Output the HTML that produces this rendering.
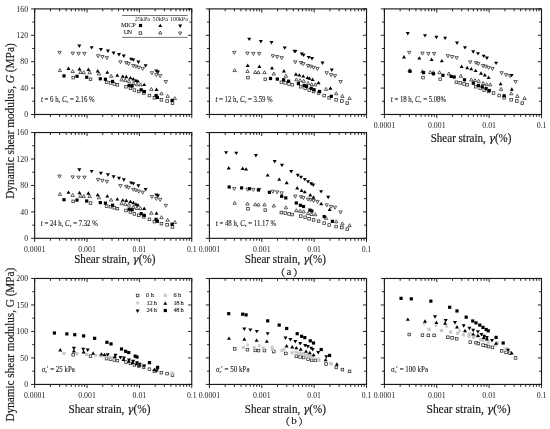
<!DOCTYPE html>
<html><head><meta charset="utf-8"><title>Dynamic shear modulus vs shear strain</title><style>
html,body{margin:0;padding:0;background:#fff;width:550px;height:429px;overflow:hidden;}
svg{display:block;filter:blur(0.3px);}
text{font-family:'Liberation Serif','Times New Roman',serif;fill:#1a1a1a;}
</style></head><body>
<svg width="550" height="429" viewBox="0 0 550 429">
<rect x="34.65" y="8.9" width="157.1" height="105.57" fill="none" stroke="#1a1a1a" stroke-width="1.15"/>
<path d="M34.65 114.47v3.6M34.65 8.9v3.6M50.41 114.47v2.4M50.41 8.9v2.4M59.64 114.47v2.4M59.64 8.9v2.4M66.18 114.47v2.4M66.18 8.9v2.4M71.25 114.47v2.4M71.25 8.9v2.4M75.4 114.47v2.4M75.4 8.9v2.4M78.9 114.47v2.4M78.9 8.9v2.4M81.94 114.47v2.4M81.94 8.9v2.4M84.62 114.47v2.4M84.62 8.9v2.4M87.02 114.47v3.6M87.02 8.9v3.6M102.78 114.47v2.4M102.78 8.9v2.4M112 114.47v2.4M112 8.9v2.4M118.54 114.47v2.4M118.54 8.9v2.4M123.62 114.47v2.4M123.62 8.9v2.4M127.77 114.47v2.4M127.77 8.9v2.4M131.27 114.47v2.4M131.27 8.9v2.4M134.31 114.47v2.4M134.31 8.9v2.4M136.99 114.47v2.4M136.99 8.9v2.4M139.38 114.47v3.6M139.38 8.9v3.6M155.15 114.47v2.4M155.15 8.9v2.4M164.37 114.47v2.4M164.37 8.9v2.4M170.91 114.47v2.4M170.91 8.9v2.4M175.99 114.47v2.4M175.99 8.9v2.4M180.13 114.47v2.4M180.13 8.9v2.4M183.64 114.47v2.4M183.64 8.9v2.4M186.68 114.47v2.4M186.68 8.9v2.4M189.35 114.47v2.4M189.35 8.9v2.4M191.75 114.47v3.6M191.75 8.9v3.6M31.05 114.47h3.6M188.15 114.47h3.6M32.25 101.27h2.4M189.35 101.27h2.4M31.05 88.08h3.6M188.15 88.08h3.6M32.25 74.88h2.4M189.35 74.88h2.4M31.05 61.69h3.6M188.15 61.69h3.6M32.25 48.49h2.4M189.35 48.49h2.4M31.05 35.29h3.6M188.15 35.29h3.6M32.25 22.1h2.4M189.35 22.1h2.4M31.05 8.9h3.6M188.15 8.9h3.6" stroke="#1a1a1a" stroke-width="0.95" fill="none"/>
<text x="28.05" y="117.07" font-size="7.8" text-anchor="end" >0</text>
<text x="28.05" y="90.68" font-size="7.8" text-anchor="end" >40</text>
<text x="28.05" y="64.28" font-size="7.8" text-anchor="end" >80</text>
<text x="28.05" y="37.89" font-size="7.8" text-anchor="end" >120</text>
<text x="28.05" y="11.5" font-size="7.8" text-anchor="end" >160</text>
<rect x="209.42" y="8.9" width="157.1" height="105.57" fill="none" stroke="#1a1a1a" stroke-width="1.15"/>
<path d="M209.42 114.47v3.6M209.42 8.9v3.6M225.18 114.47v2.4M225.18 8.9v2.4M234.41 114.47v2.4M234.41 8.9v2.4M240.95 114.47v2.4M240.95 8.9v2.4M246.02 114.47v2.4M246.02 8.9v2.4M250.17 114.47v2.4M250.17 8.9v2.4M253.67 114.47v2.4M253.67 8.9v2.4M256.71 114.47v2.4M256.71 8.9v2.4M259.39 114.47v2.4M259.39 8.9v2.4M261.79 114.47v3.6M261.79 8.9v3.6M277.55 114.47v2.4M277.55 8.9v2.4M286.77 114.47v2.4M286.77 8.9v2.4M293.31 114.47v2.4M293.31 8.9v2.4M298.39 114.47v2.4M298.39 8.9v2.4M302.54 114.47v2.4M302.54 8.9v2.4M306.04 114.47v2.4M306.04 8.9v2.4M309.08 114.47v2.4M309.08 8.9v2.4M311.76 114.47v2.4M311.76 8.9v2.4M314.15 114.47v3.6M314.15 8.9v3.6M329.92 114.47v2.4M329.92 8.9v2.4M339.14 114.47v2.4M339.14 8.9v2.4M345.68 114.47v2.4M345.68 8.9v2.4M350.76 114.47v2.4M350.76 8.9v2.4M354.9 114.47v2.4M354.9 8.9v2.4M358.41 114.47v2.4M358.41 8.9v2.4M361.45 114.47v2.4M361.45 8.9v2.4M364.12 114.47v2.4M364.12 8.9v2.4M366.52 114.47v3.6M366.52 8.9v3.6M205.82 114.47h3.6M362.92 114.47h3.6M207.02 101.27h2.4M364.12 101.27h2.4M205.82 88.08h3.6M362.92 88.08h3.6M207.02 74.88h2.4M364.12 74.88h2.4M205.82 61.69h3.6M362.92 61.69h3.6M207.02 48.49h2.4M364.12 48.49h2.4M205.82 35.29h3.6M362.92 35.29h3.6M207.02 22.1h2.4M364.12 22.1h2.4M205.82 8.9h3.6M362.92 8.9h3.6" stroke="#1a1a1a" stroke-width="0.95" fill="none"/>
<rect x="384.4" y="8.9" width="157.1" height="105.57" fill="none" stroke="#1a1a1a" stroke-width="1.15"/>
<path d="M384.4 114.47v3.6M384.4 8.9v3.6M400.16 114.47v2.4M400.16 8.9v2.4M409.39 114.47v2.4M409.39 8.9v2.4M415.93 114.47v2.4M415.93 8.9v2.4M421 114.47v2.4M421 8.9v2.4M425.15 114.47v2.4M425.15 8.9v2.4M428.65 114.47v2.4M428.65 8.9v2.4M431.69 114.47v2.4M431.69 8.9v2.4M434.37 114.47v2.4M434.37 8.9v2.4M436.77 114.47v3.6M436.77 8.9v3.6M452.53 114.47v2.4M452.53 8.9v2.4M461.75 114.47v2.4M461.75 8.9v2.4M468.29 114.47v2.4M468.29 8.9v2.4M473.37 114.47v2.4M473.37 8.9v2.4M477.52 114.47v2.4M477.52 8.9v2.4M481.02 114.47v2.4M481.02 8.9v2.4M484.06 114.47v2.4M484.06 8.9v2.4M486.74 114.47v2.4M486.74 8.9v2.4M489.13 114.47v3.6M489.13 8.9v3.6M504.9 114.47v2.4M504.9 8.9v2.4M514.12 114.47v2.4M514.12 8.9v2.4M520.66 114.47v2.4M520.66 8.9v2.4M525.74 114.47v2.4M525.74 8.9v2.4M529.88 114.47v2.4M529.88 8.9v2.4M533.39 114.47v2.4M533.39 8.9v2.4M536.43 114.47v2.4M536.43 8.9v2.4M539.1 114.47v2.4M539.1 8.9v2.4M541.5 114.47v3.6M541.5 8.9v3.6M380.8 114.47h3.6M537.9 114.47h3.6M382 101.27h2.4M539.1 101.27h2.4M380.8 88.08h3.6M537.9 88.08h3.6M382 74.88h2.4M539.1 74.88h2.4M380.8 61.69h3.6M537.9 61.69h3.6M382 48.49h2.4M539.1 48.49h2.4M380.8 35.29h3.6M537.9 35.29h3.6M382 22.1h2.4M539.1 22.1h2.4M380.8 8.9h3.6M537.9 8.9h3.6" stroke="#1a1a1a" stroke-width="0.95" fill="none"/>
<text x="384.4" y="127.77" font-size="7.8" text-anchor="middle" >0.0001</text>
<text x="436.77" y="127.77" font-size="7.8" text-anchor="middle" >0.001</text>
<text x="489.13" y="127.77" font-size="7.8" text-anchor="middle" >0.01</text>
<text x="541.5" y="127.77" font-size="7.8" text-anchor="middle" >0.1</text>
<rect x="34.65" y="132.55" width="157.1" height="105.8" fill="none" stroke="#1a1a1a" stroke-width="1.15"/>
<path d="M34.65 238.35v3.6M34.65 132.55v3.6M50.41 238.35v2.4M50.41 132.55v2.4M59.64 238.35v2.4M59.64 132.55v2.4M66.18 238.35v2.4M66.18 132.55v2.4M71.25 238.35v2.4M71.25 132.55v2.4M75.4 238.35v2.4M75.4 132.55v2.4M78.9 238.35v2.4M78.9 132.55v2.4M81.94 238.35v2.4M81.94 132.55v2.4M84.62 238.35v2.4M84.62 132.55v2.4M87.02 238.35v3.6M87.02 132.55v3.6M102.78 238.35v2.4M102.78 132.55v2.4M112 238.35v2.4M112 132.55v2.4M118.54 238.35v2.4M118.54 132.55v2.4M123.62 238.35v2.4M123.62 132.55v2.4M127.77 238.35v2.4M127.77 132.55v2.4M131.27 238.35v2.4M131.27 132.55v2.4M134.31 238.35v2.4M134.31 132.55v2.4M136.99 238.35v2.4M136.99 132.55v2.4M139.38 238.35v3.6M139.38 132.55v3.6M155.15 238.35v2.4M155.15 132.55v2.4M164.37 238.35v2.4M164.37 132.55v2.4M170.91 238.35v2.4M170.91 132.55v2.4M175.99 238.35v2.4M175.99 132.55v2.4M180.13 238.35v2.4M180.13 132.55v2.4M183.64 238.35v2.4M183.64 132.55v2.4M186.68 238.35v2.4M186.68 132.55v2.4M189.35 238.35v2.4M189.35 132.55v2.4M191.75 238.35v3.6M191.75 132.55v3.6M31.05 238.35h3.6M188.15 238.35h3.6M32.25 225.13h2.4M189.35 225.13h2.4M31.05 211.9h3.6M188.15 211.9h3.6M32.25 198.68h2.4M189.35 198.68h2.4M31.05 185.45h3.6M188.15 185.45h3.6M32.25 172.23h2.4M189.35 172.23h2.4M31.05 159h3.6M188.15 159h3.6M32.25 145.78h2.4M189.35 145.78h2.4M31.05 132.55h3.6M188.15 132.55h3.6" stroke="#1a1a1a" stroke-width="0.95" fill="none"/>
<text x="28.05" y="240.95" font-size="7.8" text-anchor="end" >0</text>
<text x="28.05" y="214.5" font-size="7.8" text-anchor="end" >40</text>
<text x="28.05" y="188.05" font-size="7.8" text-anchor="end" >80</text>
<text x="28.05" y="161.6" font-size="7.8" text-anchor="end" >120</text>
<text x="28.05" y="135.15" font-size="7.8" text-anchor="end" >160</text>
<text x="34.65" y="252.05" font-size="7.8" text-anchor="middle" >0.0001</text>
<text x="87.02" y="252.05" font-size="7.8" text-anchor="middle" >0.001</text>
<text x="139.38" y="252.05" font-size="7.8" text-anchor="middle" >0.01</text>
<text x="191.75" y="252.05" font-size="7.8" text-anchor="middle" >0.1</text>
<rect x="209.42" y="132.55" width="157.1" height="105.8" fill="none" stroke="#1a1a1a" stroke-width="1.15"/>
<path d="M209.42 238.35v3.6M209.42 132.55v3.6M225.18 238.35v2.4M225.18 132.55v2.4M234.41 238.35v2.4M234.41 132.55v2.4M240.95 238.35v2.4M240.95 132.55v2.4M246.02 238.35v2.4M246.02 132.55v2.4M250.17 238.35v2.4M250.17 132.55v2.4M253.67 238.35v2.4M253.67 132.55v2.4M256.71 238.35v2.4M256.71 132.55v2.4M259.39 238.35v2.4M259.39 132.55v2.4M261.79 238.35v3.6M261.79 132.55v3.6M277.55 238.35v2.4M277.55 132.55v2.4M286.77 238.35v2.4M286.77 132.55v2.4M293.31 238.35v2.4M293.31 132.55v2.4M298.39 238.35v2.4M298.39 132.55v2.4M302.54 238.35v2.4M302.54 132.55v2.4M306.04 238.35v2.4M306.04 132.55v2.4M309.08 238.35v2.4M309.08 132.55v2.4M311.76 238.35v2.4M311.76 132.55v2.4M314.15 238.35v3.6M314.15 132.55v3.6M329.92 238.35v2.4M329.92 132.55v2.4M339.14 238.35v2.4M339.14 132.55v2.4M345.68 238.35v2.4M345.68 132.55v2.4M350.76 238.35v2.4M350.76 132.55v2.4M354.9 238.35v2.4M354.9 132.55v2.4M358.41 238.35v2.4M358.41 132.55v2.4M361.45 238.35v2.4M361.45 132.55v2.4M364.12 238.35v2.4M364.12 132.55v2.4M366.52 238.35v3.6M366.52 132.55v3.6M205.82 238.35h3.6M362.92 238.35h3.6M207.02 225.13h2.4M364.12 225.13h2.4M205.82 211.9h3.6M362.92 211.9h3.6M207.02 198.68h2.4M364.12 198.68h2.4M205.82 185.45h3.6M362.92 185.45h3.6M207.02 172.23h2.4M364.12 172.23h2.4M205.82 159h3.6M362.92 159h3.6M207.02 145.78h2.4M364.12 145.78h2.4M205.82 132.55h3.6M362.92 132.55h3.6" stroke="#1a1a1a" stroke-width="0.95" fill="none"/>
<text x="209.42" y="252.05" font-size="7.8" text-anchor="middle" >0.0001</text>
<text x="261.79" y="252.05" font-size="7.8" text-anchor="middle" >0.001</text>
<text x="314.15" y="252.05" font-size="7.8" text-anchor="middle" >0.01</text>
<text x="366.52" y="252.05" font-size="7.8" text-anchor="middle" >0.1</text>
<rect x="34.65" y="278.47" width="157.1" height="105.95" fill="none" stroke="#1a1a1a" stroke-width="1.15"/>
<path d="M34.65 384.42v3.6M34.65 278.47v3.6M50.41 384.42v2.4M50.41 278.47v2.4M59.64 384.42v2.4M59.64 278.47v2.4M66.18 384.42v2.4M66.18 278.47v2.4M71.25 384.42v2.4M71.25 278.47v2.4M75.4 384.42v2.4M75.4 278.47v2.4M78.9 384.42v2.4M78.9 278.47v2.4M81.94 384.42v2.4M81.94 278.47v2.4M84.62 384.42v2.4M84.62 278.47v2.4M87.02 384.42v3.6M87.02 278.47v3.6M102.78 384.42v2.4M102.78 278.47v2.4M112 384.42v2.4M112 278.47v2.4M118.54 384.42v2.4M118.54 278.47v2.4M123.62 384.42v2.4M123.62 278.47v2.4M127.77 384.42v2.4M127.77 278.47v2.4M131.27 384.42v2.4M131.27 278.47v2.4M134.31 384.42v2.4M134.31 278.47v2.4M136.99 384.42v2.4M136.99 278.47v2.4M139.38 384.42v3.6M139.38 278.47v3.6M155.15 384.42v2.4M155.15 278.47v2.4M164.37 384.42v2.4M164.37 278.47v2.4M170.91 384.42v2.4M170.91 278.47v2.4M175.99 384.42v2.4M175.99 278.47v2.4M180.13 384.42v2.4M180.13 278.47v2.4M183.64 384.42v2.4M183.64 278.47v2.4M186.68 384.42v2.4M186.68 278.47v2.4M189.35 384.42v2.4M189.35 278.47v2.4M191.75 384.42v3.6M191.75 278.47v3.6M31.05 384.42h3.6M188.15 384.42h3.6M32.25 371.18h2.4M189.35 371.18h2.4M31.05 357.93h3.6M188.15 357.93h3.6M32.25 344.69h2.4M189.35 344.69h2.4M31.05 331.44h3.6M188.15 331.44h3.6M32.25 318.2h2.4M189.35 318.2h2.4M31.05 304.96h3.6M188.15 304.96h3.6M32.25 291.71h2.4M189.35 291.71h2.4M31.05 278.47h3.6M188.15 278.47h3.6" stroke="#1a1a1a" stroke-width="0.95" fill="none"/>
<text x="28.05" y="387.02" font-size="7.8" text-anchor="end" >0</text>
<text x="28.05" y="360.53" font-size="7.8" text-anchor="end" >50</text>
<text x="28.05" y="334.05" font-size="7.8" text-anchor="end" >100</text>
<text x="28.05" y="307.56" font-size="7.8" text-anchor="end" >150</text>
<text x="28.05" y="281.07" font-size="7.8" text-anchor="end" >200</text>
<text x="34.65" y="397.62" font-size="7.8" text-anchor="middle" >0.0001</text>
<text x="87.02" y="397.62" font-size="7.8" text-anchor="middle" >0.001</text>
<text x="139.38" y="397.62" font-size="7.8" text-anchor="middle" >0.01</text>
<text x="191.75" y="397.62" font-size="7.8" text-anchor="middle" >0.1</text>
<rect x="209.42" y="278.47" width="157.1" height="105.95" fill="none" stroke="#1a1a1a" stroke-width="1.15"/>
<path d="M209.42 384.42v3.6M209.42 278.47v3.6M225.18 384.42v2.4M225.18 278.47v2.4M234.41 384.42v2.4M234.41 278.47v2.4M240.95 384.42v2.4M240.95 278.47v2.4M246.02 384.42v2.4M246.02 278.47v2.4M250.17 384.42v2.4M250.17 278.47v2.4M253.67 384.42v2.4M253.67 278.47v2.4M256.71 384.42v2.4M256.71 278.47v2.4M259.39 384.42v2.4M259.39 278.47v2.4M261.79 384.42v3.6M261.79 278.47v3.6M277.55 384.42v2.4M277.55 278.47v2.4M286.77 384.42v2.4M286.77 278.47v2.4M293.31 384.42v2.4M293.31 278.47v2.4M298.39 384.42v2.4M298.39 278.47v2.4M302.54 384.42v2.4M302.54 278.47v2.4M306.04 384.42v2.4M306.04 278.47v2.4M309.08 384.42v2.4M309.08 278.47v2.4M311.76 384.42v2.4M311.76 278.47v2.4M314.15 384.42v3.6M314.15 278.47v3.6M329.92 384.42v2.4M329.92 278.47v2.4M339.14 384.42v2.4M339.14 278.47v2.4M345.68 384.42v2.4M345.68 278.47v2.4M350.76 384.42v2.4M350.76 278.47v2.4M354.9 384.42v2.4M354.9 278.47v2.4M358.41 384.42v2.4M358.41 278.47v2.4M361.45 384.42v2.4M361.45 278.47v2.4M364.12 384.42v2.4M364.12 278.47v2.4M366.52 384.42v3.6M366.52 278.47v3.6M205.82 384.42h3.6M362.92 384.42h3.6M207.02 371.18h2.4M364.12 371.18h2.4M205.82 357.93h3.6M362.92 357.93h3.6M207.02 344.69h2.4M364.12 344.69h2.4M205.82 331.44h3.6M362.92 331.44h3.6M207.02 318.2h2.4M364.12 318.2h2.4M205.82 304.96h3.6M362.92 304.96h3.6M207.02 291.71h2.4M364.12 291.71h2.4M205.82 278.47h3.6M362.92 278.47h3.6" stroke="#1a1a1a" stroke-width="0.95" fill="none"/>
<text x="209.42" y="397.62" font-size="7.8" text-anchor="middle" >0.0001</text>
<text x="261.79" y="397.62" font-size="7.8" text-anchor="middle" >0.001</text>
<text x="314.15" y="397.62" font-size="7.8" text-anchor="middle" >0.01</text>
<text x="366.52" y="397.62" font-size="7.8" text-anchor="middle" >0.1</text>
<rect x="384.4" y="278.47" width="157.1" height="105.95" fill="none" stroke="#1a1a1a" stroke-width="1.15"/>
<path d="M384.4 384.42v3.6M384.4 278.47v3.6M400.16 384.42v2.4M400.16 278.47v2.4M409.39 384.42v2.4M409.39 278.47v2.4M415.93 384.42v2.4M415.93 278.47v2.4M421 384.42v2.4M421 278.47v2.4M425.15 384.42v2.4M425.15 278.47v2.4M428.65 384.42v2.4M428.65 278.47v2.4M431.69 384.42v2.4M431.69 278.47v2.4M434.37 384.42v2.4M434.37 278.47v2.4M436.77 384.42v3.6M436.77 278.47v3.6M452.53 384.42v2.4M452.53 278.47v2.4M461.75 384.42v2.4M461.75 278.47v2.4M468.29 384.42v2.4M468.29 278.47v2.4M473.37 384.42v2.4M473.37 278.47v2.4M477.52 384.42v2.4M477.52 278.47v2.4M481.02 384.42v2.4M481.02 278.47v2.4M484.06 384.42v2.4M484.06 278.47v2.4M486.74 384.42v2.4M486.74 278.47v2.4M489.13 384.42v3.6M489.13 278.47v3.6M504.9 384.42v2.4M504.9 278.47v2.4M514.12 384.42v2.4M514.12 278.47v2.4M520.66 384.42v2.4M520.66 278.47v2.4M525.74 384.42v2.4M525.74 278.47v2.4M529.88 384.42v2.4M529.88 278.47v2.4M533.39 384.42v2.4M533.39 278.47v2.4M536.43 384.42v2.4M536.43 278.47v2.4M539.1 384.42v2.4M539.1 278.47v2.4M541.5 384.42v3.6M541.5 278.47v3.6M380.8 384.42h3.6M537.9 384.42h3.6M382 371.18h2.4M539.1 371.18h2.4M380.8 357.93h3.6M537.9 357.93h3.6M382 344.69h2.4M539.1 344.69h2.4M380.8 331.44h3.6M537.9 331.44h3.6M382 318.2h2.4M539.1 318.2h2.4M380.8 304.96h3.6M537.9 304.96h3.6M382 291.71h2.4M539.1 291.71h2.4M380.8 278.47h3.6M537.9 278.47h3.6" stroke="#1a1a1a" stroke-width="0.95" fill="none"/>
<text x="384.4" y="397.62" font-size="7.8" text-anchor="middle" >0.0001</text>
<text x="436.77" y="397.62" font-size="7.8" text-anchor="middle" >0.001</text>
<text x="489.13" y="397.62" font-size="7.8" text-anchor="middle" >0.01</text>
<text x="541.5" y="397.62" font-size="7.8" text-anchor="middle" >0.1</text>
<rect x="71.9" y="76.3" width="2.6" height="2.6" fill="#fff" stroke="#2a2a2a" stroke-width="0.75"/>
<rect x="89.2" y="78" width="2.6" height="2.6" fill="#fff" stroke="#2a2a2a" stroke-width="0.75"/>
<rect x="105.3" y="81" width="2.6" height="2.6" fill="#fff" stroke="#2a2a2a" stroke-width="0.75"/>
<rect x="109.2" y="81.6" width="2.6" height="2.6" fill="#fff" stroke="#2a2a2a" stroke-width="0.75"/>
<rect x="113" y="82.7" width="2.6" height="2.6" fill="#fff" stroke="#2a2a2a" stroke-width="0.75"/>
<rect x="116.1" y="83.5" width="2.6" height="2.6" fill="#fff" stroke="#2a2a2a" stroke-width="0.75"/>
<rect x="124.7" y="85.4" width="2.6" height="2.6" fill="#fff" stroke="#2a2a2a" stroke-width="0.75"/>
<rect x="129.1" y="86.9" width="2.6" height="2.6" fill="#fff" stroke="#2a2a2a" stroke-width="0.75"/>
<rect x="133.1" y="88.8" width="2.6" height="2.6" fill="#fff" stroke="#2a2a2a" stroke-width="0.75"/>
<rect x="137.5" y="90.2" width="2.6" height="2.6" fill="#fff" stroke="#2a2a2a" stroke-width="0.75"/>
<rect x="142.5" y="91.7" width="2.6" height="2.6" fill="#fff" stroke="#2a2a2a" stroke-width="0.75"/>
<rect x="148.1" y="94.2" width="2.6" height="2.6" fill="#fff" stroke="#2a2a2a" stroke-width="0.75"/>
<rect x="153.1" y="96.5" width="2.6" height="2.6" fill="#fff" stroke="#2a2a2a" stroke-width="0.75"/>
<rect x="160.1" y="98.5" width="2.6" height="2.6" fill="#fff" stroke="#2a2a2a" stroke-width="0.75"/>
<rect x="165.8" y="99.7" width="2.6" height="2.6" fill="#fff" stroke="#2a2a2a" stroke-width="0.75"/>
<rect x="171.2" y="101.8" width="2.6" height="2.6" fill="#fff" stroke="#2a2a2a" stroke-width="0.75"/>
<path d="M58.2 71.6h3.4L59.9 68.6Z" fill="#fff" stroke="#2a2a2a" stroke-width="0.75"/>
<path d="M71 72.6h3.4L72.7 69.6Z" fill="#fff" stroke="#2a2a2a" stroke-width="0.75"/>
<path d="M78.8 73.5h3.4L80.5 70.5Z" fill="#fff" stroke="#2a2a2a" stroke-width="0.75"/>
<path d="M82 73.7h3.4L83.7 70.7Z" fill="#fff" stroke="#2a2a2a" stroke-width="0.75"/>
<path d="M88 73.7h3.4L89.7 70.7Z" fill="#fff" stroke="#2a2a2a" stroke-width="0.75"/>
<path d="M97.3 75h3.4L99 72Z" fill="#fff" stroke="#2a2a2a" stroke-width="0.75"/>
<path d="M109.4 77.3h3.4L111.1 74.3Z" fill="#fff" stroke="#2a2a2a" stroke-width="0.75"/>
<path d="M119.9 80.9h3.4L121.6 77.9Z" fill="#fff" stroke="#2a2a2a" stroke-width="0.75"/>
<path d="M123.6 81.6h3.4L125.3 78.6Z" fill="#fff" stroke="#2a2a2a" stroke-width="0.75"/>
<path d="M127.2 82.3h3.4L128.9 79.3Z" fill="#fff" stroke="#2a2a2a" stroke-width="0.75"/>
<path d="M131.6 84.5h3.4L133.3 81.5Z" fill="#fff" stroke="#2a2a2a" stroke-width="0.75"/>
<path d="M135.2 85.7h3.4L136.9 82.7Z" fill="#fff" stroke="#2a2a2a" stroke-width="0.75"/>
<path d="M138.8 85.9h3.4L140.5 82.9Z" fill="#fff" stroke="#2a2a2a" stroke-width="0.75"/>
<path d="M149.6 90.4h3.4L151.3 87.4Z" fill="#fff" stroke="#2a2a2a" stroke-width="0.75"/>
<path d="M159.8 94.8h3.4L161.5 91.8Z" fill="#fff" stroke="#2a2a2a" stroke-width="0.75"/>
<path d="M165.9 97.4h3.4L167.6 94.4Z" fill="#fff" stroke="#2a2a2a" stroke-width="0.75"/>
<path d="M173.1 99.6h3.4L174.8 96.6Z" fill="#fff" stroke="#2a2a2a" stroke-width="0.75"/>
<path d="M57.8 51.3h3.4L59.5 54.3Z" fill="#fff" stroke="#2a2a2a" stroke-width="0.75"/>
<path d="M71 52.1h3.4L72.7 55.1Z" fill="#fff" stroke="#2a2a2a" stroke-width="0.75"/>
<path d="M76.9 52.4h3.4L78.6 55.4Z" fill="#fff" stroke="#2a2a2a" stroke-width="0.75"/>
<path d="M82.7 52.4h3.4L84.4 55.4Z" fill="#fff" stroke="#2a2a2a" stroke-width="0.75"/>
<path d="M96.4 54.7h3.4L98.1 57.7Z" fill="#fff" stroke="#2a2a2a" stroke-width="0.75"/>
<path d="M100.7 55.5h3.4L102.4 58.5Z" fill="#fff" stroke="#2a2a2a" stroke-width="0.75"/>
<path d="M105.2 56.6h3.4L106.9 59.6Z" fill="#fff" stroke="#2a2a2a" stroke-width="0.75"/>
<path d="M118.8 60.8h3.4L120.5 63.8Z" fill="#fff" stroke="#2a2a2a" stroke-width="0.75"/>
<path d="M124.6 61.5h3.4L126.3 64.5Z" fill="#fff" stroke="#2a2a2a" stroke-width="0.75"/>
<path d="M126.9 62.6h3.4L128.6 65.6Z" fill="#fff" stroke="#2a2a2a" stroke-width="0.75"/>
<path d="M131.6 64.5h3.4L133.3 67.5Z" fill="#fff" stroke="#2a2a2a" stroke-width="0.75"/>
<path d="M134.2 65.2h3.4L135.9 68.2Z" fill="#fff" stroke="#2a2a2a" stroke-width="0.75"/>
<path d="M137.1 66.3h3.4L138.8 69.3Z" fill="#fff" stroke="#2a2a2a" stroke-width="0.75"/>
<path d="M141 67.4h3.4L142.7 70.4Z" fill="#fff" stroke="#2a2a2a" stroke-width="0.75"/>
<path d="M150.2 71.7h3.4L151.9 74.7Z" fill="#fff" stroke="#2a2a2a" stroke-width="0.75"/>
<path d="M154.6 73.6h3.4L156.3 76.6Z" fill="#fff" stroke="#2a2a2a" stroke-width="0.75"/>
<path d="M158.5 74.6h3.4L160.2 77.6Z" fill="#fff" stroke="#2a2a2a" stroke-width="0.75"/>
<path d="M164.1 80.5h3.4L165.8 83.5Z" fill="#fff" stroke="#2a2a2a" stroke-width="0.75"/>
<rect x="62.4" y="74.3" width="3.2" height="3.2" fill="#000"/>
<rect x="75.4" y="74.7" width="3.2" height="3.2" fill="#000"/>
<rect x="85.1" y="75.6" width="3.2" height="3.2" fill="#000"/>
<rect x="98.7" y="77.2" width="3.2" height="3.2" fill="#000"/>
<rect x="103.8" y="77.7" width="3.2" height="3.2" fill="#000"/>
<rect x="111" y="79.8" width="3.2" height="3.2" fill="#000"/>
<rect x="127.6" y="83.7" width="3.2" height="3.2" fill="#000"/>
<rect x="130.5" y="84.4" width="3.2" height="3.2" fill="#000"/>
<rect x="139.6" y="88.2" width="3.2" height="3.2" fill="#000"/>
<rect x="142.7" y="89.9" width="3.2" height="3.2" fill="#000"/>
<rect x="154.5" y="93.9" width="3.2" height="3.2" fill="#000"/>
<rect x="155.8" y="95.8" width="3.2" height="3.2" fill="#000"/>
<rect x="170.5" y="98.8" width="3.2" height="3.2" fill="#000"/>
<path d="M66.5 70h4L68.5 66.6Z" fill="#000"/>
<path d="M77.5 70.4h4L79.5 67Z" fill="#000"/>
<path d="M86.4 70.9h4L88.4 67.5Z" fill="#000"/>
<path d="M95.7 72.5h4L97.7 69.1Z" fill="#000"/>
<path d="M105.3 73.8h4L107.3 70.4Z" fill="#000"/>
<path d="M115.3 76.8h4L117.3 73.4Z" fill="#000"/>
<path d="M120.8 77.8h4L122.8 74.4Z" fill="#000"/>
<path d="M124.3 78.2h4L126.3 74.8Z" fill="#000"/>
<path d="M128.4 79.3h4L130.4 75.9Z" fill="#000"/>
<path d="M131.3 80.4h4L133.3 77Z" fill="#000"/>
<path d="M133.9 81.9h4L135.9 78.5Z" fill="#000"/>
<path d="M135.9 82.6h4L137.9 79.2Z" fill="#000"/>
<path d="M142.2 86.1h4L144.2 82.7Z" fill="#000"/>
<path d="M154.5 90.9h4L156.5 87.5Z" fill="#000"/>
<path d="M77.3 44.5h4L79.3 47.9Z" fill="#000"/>
<path d="M89.7 46.2h4L91.7 49.6Z" fill="#000"/>
<path d="M98.9 48h4L100.9 51.4Z" fill="#000"/>
<path d="M105.9 49.6h4L107.9 53Z" fill="#000"/>
<path d="M111.6 51.5h4L113.6 54.9Z" fill="#000"/>
<path d="M117 53.1h4L119 56.5Z" fill="#000"/>
<path d="M121.8 54.5h4L123.8 57.9Z" fill="#000"/>
<path d="M129.1 57.7h4L131.1 61.1Z" fill="#000"/>
<path d="M131.3 58.4h4L133.3 61.8Z" fill="#000"/>
<path d="M136.4 60.6h4L138.4 64Z" fill="#000"/>
<path d="M143.6 64.3h4L145.6 67.7Z" fill="#000"/>
<path d="M154.3 69.6h4L156.3 73Z" fill="#000"/>
<path d="M156 70.5h4L158 73.9Z" fill="#000"/>
<rect x="246.67" y="76.3" width="2.6" height="2.6" fill="#fff" stroke="#2a2a2a" stroke-width="0.75"/>
<rect x="263.97" y="78" width="2.6" height="2.6" fill="#fff" stroke="#2a2a2a" stroke-width="0.75"/>
<rect x="280.07" y="81" width="2.6" height="2.6" fill="#fff" stroke="#2a2a2a" stroke-width="0.75"/>
<rect x="283.97" y="81.6" width="2.6" height="2.6" fill="#fff" stroke="#2a2a2a" stroke-width="0.75"/>
<rect x="287.77" y="82.7" width="2.6" height="2.6" fill="#fff" stroke="#2a2a2a" stroke-width="0.75"/>
<rect x="290.87" y="83.5" width="2.6" height="2.6" fill="#fff" stroke="#2a2a2a" stroke-width="0.75"/>
<rect x="299.47" y="85.4" width="2.6" height="2.6" fill="#fff" stroke="#2a2a2a" stroke-width="0.75"/>
<rect x="303.87" y="86.9" width="2.6" height="2.6" fill="#fff" stroke="#2a2a2a" stroke-width="0.75"/>
<rect x="307.87" y="88.8" width="2.6" height="2.6" fill="#fff" stroke="#2a2a2a" stroke-width="0.75"/>
<rect x="312.27" y="90.2" width="2.6" height="2.6" fill="#fff" stroke="#2a2a2a" stroke-width="0.75"/>
<rect x="317.27" y="91.7" width="2.6" height="2.6" fill="#fff" stroke="#2a2a2a" stroke-width="0.75"/>
<rect x="322.87" y="94.2" width="2.6" height="2.6" fill="#fff" stroke="#2a2a2a" stroke-width="0.75"/>
<rect x="327.87" y="96.5" width="2.6" height="2.6" fill="#fff" stroke="#2a2a2a" stroke-width="0.75"/>
<rect x="334.87" y="98.5" width="2.6" height="2.6" fill="#fff" stroke="#2a2a2a" stroke-width="0.75"/>
<rect x="340.57" y="99.7" width="2.6" height="2.6" fill="#fff" stroke="#2a2a2a" stroke-width="0.75"/>
<rect x="345.97" y="101.8" width="2.6" height="2.6" fill="#fff" stroke="#2a2a2a" stroke-width="0.75"/>
<path d="M232.97 71.6h3.4L234.67 68.6Z" fill="#fff" stroke="#2a2a2a" stroke-width="0.75"/>
<path d="M245.77 72.6h3.4L247.47 69.6Z" fill="#fff" stroke="#2a2a2a" stroke-width="0.75"/>
<path d="M253.57 73.5h3.4L255.27 70.5Z" fill="#fff" stroke="#2a2a2a" stroke-width="0.75"/>
<path d="M256.77 73.7h3.4L258.47 70.7Z" fill="#fff" stroke="#2a2a2a" stroke-width="0.75"/>
<path d="M262.77 73.7h3.4L264.47 70.7Z" fill="#fff" stroke="#2a2a2a" stroke-width="0.75"/>
<path d="M272.07 75h3.4L273.77 72Z" fill="#fff" stroke="#2a2a2a" stroke-width="0.75"/>
<path d="M284.17 77.3h3.4L285.87 74.3Z" fill="#fff" stroke="#2a2a2a" stroke-width="0.75"/>
<path d="M294.67 80.9h3.4L296.37 77.9Z" fill="#fff" stroke="#2a2a2a" stroke-width="0.75"/>
<path d="M298.37 81.6h3.4L300.07 78.6Z" fill="#fff" stroke="#2a2a2a" stroke-width="0.75"/>
<path d="M301.97 82.3h3.4L303.67 79.3Z" fill="#fff" stroke="#2a2a2a" stroke-width="0.75"/>
<path d="M306.37 84.5h3.4L308.07 81.5Z" fill="#fff" stroke="#2a2a2a" stroke-width="0.75"/>
<path d="M309.97 85.7h3.4L311.67 82.7Z" fill="#fff" stroke="#2a2a2a" stroke-width="0.75"/>
<path d="M313.57 85.9h3.4L315.27 82.9Z" fill="#fff" stroke="#2a2a2a" stroke-width="0.75"/>
<path d="M324.37 90.4h3.4L326.07 87.4Z" fill="#fff" stroke="#2a2a2a" stroke-width="0.75"/>
<path d="M334.57 94.8h3.4L336.27 91.8Z" fill="#fff" stroke="#2a2a2a" stroke-width="0.75"/>
<path d="M340.67 97.4h3.4L342.37 94.4Z" fill="#fff" stroke="#2a2a2a" stroke-width="0.75"/>
<path d="M347.87 99.6h3.4L349.57 96.6Z" fill="#fff" stroke="#2a2a2a" stroke-width="0.75"/>
<path d="M232.57 51.3h3.4L234.27 54.3Z" fill="#fff" stroke="#2a2a2a" stroke-width="0.75"/>
<path d="M245.77 52.1h3.4L247.47 55.1Z" fill="#fff" stroke="#2a2a2a" stroke-width="0.75"/>
<path d="M251.67 52.4h3.4L253.37 55.4Z" fill="#fff" stroke="#2a2a2a" stroke-width="0.75"/>
<path d="M257.47 52.4h3.4L259.17 55.4Z" fill="#fff" stroke="#2a2a2a" stroke-width="0.75"/>
<path d="M271.17 54.7h3.4L272.87 57.7Z" fill="#fff" stroke="#2a2a2a" stroke-width="0.75"/>
<path d="M275.47 55.5h3.4L277.17 58.5Z" fill="#fff" stroke="#2a2a2a" stroke-width="0.75"/>
<path d="M279.97 56.6h3.4L281.67 59.6Z" fill="#fff" stroke="#2a2a2a" stroke-width="0.75"/>
<path d="M293.57 60.8h3.4L295.27 63.8Z" fill="#fff" stroke="#2a2a2a" stroke-width="0.75"/>
<path d="M299.37 61.5h3.4L301.07 64.5Z" fill="#fff" stroke="#2a2a2a" stroke-width="0.75"/>
<path d="M301.67 62.6h3.4L303.37 65.6Z" fill="#fff" stroke="#2a2a2a" stroke-width="0.75"/>
<path d="M306.37 64.5h3.4L308.07 67.5Z" fill="#fff" stroke="#2a2a2a" stroke-width="0.75"/>
<path d="M308.97 65.2h3.4L310.67 68.2Z" fill="#fff" stroke="#2a2a2a" stroke-width="0.75"/>
<path d="M311.87 66.3h3.4L313.57 69.3Z" fill="#fff" stroke="#2a2a2a" stroke-width="0.75"/>
<path d="M315.77 67.4h3.4L317.47 70.4Z" fill="#fff" stroke="#2a2a2a" stroke-width="0.75"/>
<path d="M324.97 71.7h3.4L326.67 74.7Z" fill="#fff" stroke="#2a2a2a" stroke-width="0.75"/>
<path d="M329.37 73.6h3.4L331.07 76.6Z" fill="#fff" stroke="#2a2a2a" stroke-width="0.75"/>
<path d="M333.27 74.6h3.4L334.97 77.6Z" fill="#fff" stroke="#2a2a2a" stroke-width="0.75"/>
<path d="M338.87 80.5h3.4L340.57 83.5Z" fill="#fff" stroke="#2a2a2a" stroke-width="0.75"/>
<rect x="268.9" y="76.9" width="3.2" height="3.2" fill="#000"/>
<rect x="275.7" y="77.5" width="3.2" height="3.2" fill="#000"/>
<rect x="282" y="78.2" width="3.2" height="3.2" fill="#000"/>
<rect x="287" y="79.6" width="3.2" height="3.2" fill="#000"/>
<rect x="296.8" y="82" width="3.2" height="3.2" fill="#000"/>
<rect x="302.6" y="83.8" width="3.2" height="3.2" fill="#000"/>
<rect x="304.9" y="84.9" width="3.2" height="3.2" fill="#000"/>
<rect x="309.6" y="86.7" width="3.2" height="3.2" fill="#000"/>
<rect x="312.5" y="88.1" width="3.2" height="3.2" fill="#000"/>
<rect x="318" y="89.9" width="3.2" height="3.2" fill="#000"/>
<rect x="329.7" y="94.7" width="3.2" height="3.2" fill="#000"/>
<path d="M245.7 67h4L247.7 63.6Z" fill="#000"/>
<path d="M257.4 67.9h4L259.4 64.5Z" fill="#000"/>
<path d="M270 69.5h4L272 66.1Z" fill="#000"/>
<path d="M281.9 72.4h4L283.9 69Z" fill="#000"/>
<path d="M293.9 75.7h4L295.9 72.3Z" fill="#000"/>
<path d="M297.3 76.6h4L299.3 73.2Z" fill="#000"/>
<path d="M301.2 77.6h4L303.2 74.2Z" fill="#000"/>
<path d="M305.5 79.1h4L307.5 75.7Z" fill="#000"/>
<path d="M307.4 79.8h4L309.4 76.4Z" fill="#000"/>
<path d="M310.6 81h4L312.6 77.6Z" fill="#000"/>
<path d="M316.5 84.2h4L318.5 80.8Z" fill="#000"/>
<path d="M328.4 89.7h4L330.4 86.3Z" fill="#000"/>
<path d="M247.2 37.7h4L249.2 41.1Z" fill="#000"/>
<path d="M258.9 40h4L260.9 43.4Z" fill="#000"/>
<path d="M269.5 41.1h4L271.5 44.5Z" fill="#000"/>
<path d="M282.7 46.4h4L284.7 49.8Z" fill="#000"/>
<path d="M292.4 49.7h4L294.4 53.1Z" fill="#000"/>
<path d="M293.4 49.9h4L295.4 53.3Z" fill="#000"/>
<path d="M299.8 52.6h4L301.8 56Z" fill="#000"/>
<path d="M301.6 53.7h4L303.6 57.1Z" fill="#000"/>
<path d="M306.7 55.9h4L308.7 59.3Z" fill="#000"/>
<path d="M310 57h4L312 60.4Z" fill="#000"/>
<path d="M320.5 61.6h4L322.5 65Z" fill="#000"/>
<path d="M329.8 68.6h4L331.8 72Z" fill="#000"/>
<rect x="421.65" y="76.3" width="2.6" height="2.6" fill="#fff" stroke="#2a2a2a" stroke-width="0.75"/>
<rect x="438.95" y="78" width="2.6" height="2.6" fill="#fff" stroke="#2a2a2a" stroke-width="0.75"/>
<rect x="455.05" y="81" width="2.6" height="2.6" fill="#fff" stroke="#2a2a2a" stroke-width="0.75"/>
<rect x="458.95" y="81.6" width="2.6" height="2.6" fill="#fff" stroke="#2a2a2a" stroke-width="0.75"/>
<rect x="462.75" y="82.7" width="2.6" height="2.6" fill="#fff" stroke="#2a2a2a" stroke-width="0.75"/>
<rect x="465.85" y="83.5" width="2.6" height="2.6" fill="#fff" stroke="#2a2a2a" stroke-width="0.75"/>
<rect x="474.45" y="85.4" width="2.6" height="2.6" fill="#fff" stroke="#2a2a2a" stroke-width="0.75"/>
<rect x="478.85" y="86.9" width="2.6" height="2.6" fill="#fff" stroke="#2a2a2a" stroke-width="0.75"/>
<rect x="482.85" y="88.8" width="2.6" height="2.6" fill="#fff" stroke="#2a2a2a" stroke-width="0.75"/>
<rect x="487.25" y="90.2" width="2.6" height="2.6" fill="#fff" stroke="#2a2a2a" stroke-width="0.75"/>
<rect x="492.25" y="91.7" width="2.6" height="2.6" fill="#fff" stroke="#2a2a2a" stroke-width="0.75"/>
<rect x="497.85" y="94.2" width="2.6" height="2.6" fill="#fff" stroke="#2a2a2a" stroke-width="0.75"/>
<rect x="502.85" y="96.5" width="2.6" height="2.6" fill="#fff" stroke="#2a2a2a" stroke-width="0.75"/>
<rect x="509.85" y="98.5" width="2.6" height="2.6" fill="#fff" stroke="#2a2a2a" stroke-width="0.75"/>
<rect x="515.55" y="99.7" width="2.6" height="2.6" fill="#fff" stroke="#2a2a2a" stroke-width="0.75"/>
<rect x="520.95" y="101.8" width="2.6" height="2.6" fill="#fff" stroke="#2a2a2a" stroke-width="0.75"/>
<path d="M407.95 71.6h3.4L409.65 68.6Z" fill="#fff" stroke="#2a2a2a" stroke-width="0.75"/>
<path d="M420.75 72.6h3.4L422.45 69.6Z" fill="#fff" stroke="#2a2a2a" stroke-width="0.75"/>
<path d="M428.55 73.5h3.4L430.25 70.5Z" fill="#fff" stroke="#2a2a2a" stroke-width="0.75"/>
<path d="M431.75 73.7h3.4L433.45 70.7Z" fill="#fff" stroke="#2a2a2a" stroke-width="0.75"/>
<path d="M437.75 73.7h3.4L439.45 70.7Z" fill="#fff" stroke="#2a2a2a" stroke-width="0.75"/>
<path d="M447.05 75h3.4L448.75 72Z" fill="#fff" stroke="#2a2a2a" stroke-width="0.75"/>
<path d="M459.15 77.3h3.4L460.85 74.3Z" fill="#fff" stroke="#2a2a2a" stroke-width="0.75"/>
<path d="M469.65 80.9h3.4L471.35 77.9Z" fill="#fff" stroke="#2a2a2a" stroke-width="0.75"/>
<path d="M473.35 81.6h3.4L475.05 78.6Z" fill="#fff" stroke="#2a2a2a" stroke-width="0.75"/>
<path d="M476.95 82.3h3.4L478.65 79.3Z" fill="#fff" stroke="#2a2a2a" stroke-width="0.75"/>
<path d="M481.35 84.5h3.4L483.05 81.5Z" fill="#fff" stroke="#2a2a2a" stroke-width="0.75"/>
<path d="M484.95 85.7h3.4L486.65 82.7Z" fill="#fff" stroke="#2a2a2a" stroke-width="0.75"/>
<path d="M488.55 85.9h3.4L490.25 82.9Z" fill="#fff" stroke="#2a2a2a" stroke-width="0.75"/>
<path d="M499.35 90.4h3.4L501.05 87.4Z" fill="#fff" stroke="#2a2a2a" stroke-width="0.75"/>
<path d="M509.55 94.8h3.4L511.25 91.8Z" fill="#fff" stroke="#2a2a2a" stroke-width="0.75"/>
<path d="M515.65 97.4h3.4L517.35 94.4Z" fill="#fff" stroke="#2a2a2a" stroke-width="0.75"/>
<path d="M522.85 99.6h3.4L524.55 96.6Z" fill="#fff" stroke="#2a2a2a" stroke-width="0.75"/>
<path d="M407.55 51.3h3.4L409.25 54.3Z" fill="#fff" stroke="#2a2a2a" stroke-width="0.75"/>
<path d="M420.75 52.1h3.4L422.45 55.1Z" fill="#fff" stroke="#2a2a2a" stroke-width="0.75"/>
<path d="M426.65 52.4h3.4L428.35 55.4Z" fill="#fff" stroke="#2a2a2a" stroke-width="0.75"/>
<path d="M432.45 52.4h3.4L434.15 55.4Z" fill="#fff" stroke="#2a2a2a" stroke-width="0.75"/>
<path d="M446.15 54.7h3.4L447.85 57.7Z" fill="#fff" stroke="#2a2a2a" stroke-width="0.75"/>
<path d="M450.45 55.5h3.4L452.15 58.5Z" fill="#fff" stroke="#2a2a2a" stroke-width="0.75"/>
<path d="M454.95 56.6h3.4L456.65 59.6Z" fill="#fff" stroke="#2a2a2a" stroke-width="0.75"/>
<path d="M468.55 60.8h3.4L470.25 63.8Z" fill="#fff" stroke="#2a2a2a" stroke-width="0.75"/>
<path d="M474.35 61.5h3.4L476.05 64.5Z" fill="#fff" stroke="#2a2a2a" stroke-width="0.75"/>
<path d="M476.65 62.6h3.4L478.35 65.6Z" fill="#fff" stroke="#2a2a2a" stroke-width="0.75"/>
<path d="M481.35 64.5h3.4L483.05 67.5Z" fill="#fff" stroke="#2a2a2a" stroke-width="0.75"/>
<path d="M483.95 65.2h3.4L485.65 68.2Z" fill="#fff" stroke="#2a2a2a" stroke-width="0.75"/>
<path d="M486.85 66.3h3.4L488.55 69.3Z" fill="#fff" stroke="#2a2a2a" stroke-width="0.75"/>
<path d="M490.75 67.4h3.4L492.45 70.4Z" fill="#fff" stroke="#2a2a2a" stroke-width="0.75"/>
<path d="M499.95 71.7h3.4L501.65 74.7Z" fill="#fff" stroke="#2a2a2a" stroke-width="0.75"/>
<path d="M504.35 73.6h3.4L506.05 76.6Z" fill="#fff" stroke="#2a2a2a" stroke-width="0.75"/>
<path d="M508.25 74.6h3.4L509.95 77.6Z" fill="#fff" stroke="#2a2a2a" stroke-width="0.75"/>
<path d="M513.85 80.5h3.4L515.55 83.5Z" fill="#fff" stroke="#2a2a2a" stroke-width="0.75"/>
<rect x="408.4" y="69.7" width="3.2" height="3.2" fill="#000"/>
<rect x="422" y="71" width="3.2" height="3.2" fill="#000"/>
<rect x="431.8" y="72.2" width="3.2" height="3.2" fill="#000"/>
<rect x="441.3" y="73.7" width="3.2" height="3.2" fill="#000"/>
<rect x="449.6" y="74.8" width="3.2" height="3.2" fill="#000"/>
<rect x="452.6" y="75.4" width="3.2" height="3.2" fill="#000"/>
<rect x="462.9" y="78.2" width="3.2" height="3.2" fill="#000"/>
<rect x="471.7" y="81.6" width="3.2" height="3.2" fill="#000"/>
<rect x="476.8" y="83.8" width="3.2" height="3.2" fill="#000"/>
<rect x="480.7" y="85.2" width="3.2" height="3.2" fill="#000"/>
<rect x="484.5" y="87" width="3.2" height="3.2" fill="#000"/>
<rect x="487.7" y="88.9" width="3.2" height="3.2" fill="#000"/>
<rect x="502.5" y="94.2" width="3.2" height="3.2" fill="#000"/>
<path d="M402 58.5h4L404 55.1Z" fill="#000"/>
<path d="M417.3 59.6h4L419.3 56.2Z" fill="#000"/>
<path d="M429.6 61h4L431.6 57.6Z" fill="#000"/>
<path d="M439.8 62.3h4L441.8 58.9Z" fill="#000"/>
<path d="M459.6 68h4L461.6 64.6Z" fill="#000"/>
<path d="M465.2 69.2h4L467.2 65.8Z" fill="#000"/>
<path d="M469.3 70.3h4L471.3 66.9Z" fill="#000"/>
<path d="M473.7 72.1h4L475.7 68.7Z" fill="#000"/>
<path d="M479 74.7h4L481 71.3Z" fill="#000"/>
<path d="M482.8 76.5h4L484.8 73.1Z" fill="#000"/>
<path d="M486.6 79h4L488.6 75.6Z" fill="#000"/>
<path d="M498.6 85.3h4L500.6 81.9Z" fill="#000"/>
<path d="M509.8 90.7h4L511.8 87.3Z" fill="#000"/>
<path d="M405.8 32h4L407.8 35.4Z" fill="#000"/>
<path d="M423 34.2h4L425 37.6Z" fill="#000"/>
<path d="M434.4 35.8h4L436.4 39.2Z" fill="#000"/>
<path d="M443.1 36.7h4L445.1 40.1Z" fill="#000"/>
<path d="M455 41.5h4L457 44.9Z" fill="#000"/>
<path d="M463 46.2h4L465 49.6Z" fill="#000"/>
<path d="M471.2 50.3h4L473.2 53.7Z" fill="#000"/>
<path d="M476 52.2h4L478 55.6Z" fill="#000"/>
<path d="M481.7 54.7h4L483.7 58.1Z" fill="#000"/>
<path d="M484.9 56.6h4L486.9 60Z" fill="#000"/>
<path d="M494.1 61.7h4L496.1 65.1Z" fill="#000"/>
<path d="M509.7 73.9h4L511.7 77.3Z" fill="#000"/>
<rect x="71.9" y="200.1" width="2.6" height="2.6" fill="#fff" stroke="#2a2a2a" stroke-width="0.75"/>
<rect x="89.2" y="201.8" width="2.6" height="2.6" fill="#fff" stroke="#2a2a2a" stroke-width="0.75"/>
<rect x="105.3" y="204.81" width="2.6" height="2.6" fill="#fff" stroke="#2a2a2a" stroke-width="0.75"/>
<rect x="109.2" y="205.41" width="2.6" height="2.6" fill="#fff" stroke="#2a2a2a" stroke-width="0.75"/>
<rect x="113" y="206.51" width="2.6" height="2.6" fill="#fff" stroke="#2a2a2a" stroke-width="0.75"/>
<rect x="116.1" y="207.32" width="2.6" height="2.6" fill="#fff" stroke="#2a2a2a" stroke-width="0.75"/>
<rect x="124.7" y="209.22" width="2.6" height="2.6" fill="#fff" stroke="#2a2a2a" stroke-width="0.75"/>
<rect x="129.1" y="210.72" width="2.6" height="2.6" fill="#fff" stroke="#2a2a2a" stroke-width="0.75"/>
<rect x="133.1" y="212.63" width="2.6" height="2.6" fill="#fff" stroke="#2a2a2a" stroke-width="0.75"/>
<rect x="137.5" y="214.03" width="2.6" height="2.6" fill="#fff" stroke="#2a2a2a" stroke-width="0.75"/>
<rect x="142.5" y="215.53" width="2.6" height="2.6" fill="#fff" stroke="#2a2a2a" stroke-width="0.75"/>
<rect x="148.1" y="218.04" width="2.6" height="2.6" fill="#fff" stroke="#2a2a2a" stroke-width="0.75"/>
<rect x="153.1" y="220.34" width="2.6" height="2.6" fill="#fff" stroke="#2a2a2a" stroke-width="0.75"/>
<rect x="160.1" y="222.35" width="2.6" height="2.6" fill="#fff" stroke="#2a2a2a" stroke-width="0.75"/>
<rect x="165.8" y="223.55" width="2.6" height="2.6" fill="#fff" stroke="#2a2a2a" stroke-width="0.75"/>
<rect x="171.2" y="225.66" width="2.6" height="2.6" fill="#fff" stroke="#2a2a2a" stroke-width="0.75"/>
<path d="M58.2 195.38h3.4L59.9 192.38Z" fill="#fff" stroke="#2a2a2a" stroke-width="0.75"/>
<path d="M71 196.39h3.4L72.7 193.39Z" fill="#fff" stroke="#2a2a2a" stroke-width="0.75"/>
<path d="M78.8 197.29h3.4L80.5 194.29Z" fill="#fff" stroke="#2a2a2a" stroke-width="0.75"/>
<path d="M82 197.49h3.4L83.7 194.49Z" fill="#fff" stroke="#2a2a2a" stroke-width="0.75"/>
<path d="M88 197.49h3.4L89.7 194.49Z" fill="#fff" stroke="#2a2a2a" stroke-width="0.75"/>
<path d="M97.3 198.79h3.4L99 195.79Z" fill="#fff" stroke="#2a2a2a" stroke-width="0.75"/>
<path d="M109.4 201.1h3.4L111.1 198.1Z" fill="#fff" stroke="#2a2a2a" stroke-width="0.75"/>
<path d="M119.9 204.7h3.4L121.6 201.7Z" fill="#fff" stroke="#2a2a2a" stroke-width="0.75"/>
<path d="M123.6 205.41h3.4L125.3 202.41Z" fill="#fff" stroke="#2a2a2a" stroke-width="0.75"/>
<path d="M127.2 206.11h3.4L128.9 203.11Z" fill="#fff" stroke="#2a2a2a" stroke-width="0.75"/>
<path d="M131.6 208.31h3.4L133.3 205.31Z" fill="#fff" stroke="#2a2a2a" stroke-width="0.75"/>
<path d="M135.2 209.51h3.4L136.9 206.51Z" fill="#fff" stroke="#2a2a2a" stroke-width="0.75"/>
<path d="M138.8 209.71h3.4L140.5 206.71Z" fill="#fff" stroke="#2a2a2a" stroke-width="0.75"/>
<path d="M149.6 214.22h3.4L151.3 211.22Z" fill="#fff" stroke="#2a2a2a" stroke-width="0.75"/>
<path d="M159.8 218.63h3.4L161.5 215.63Z" fill="#fff" stroke="#2a2a2a" stroke-width="0.75"/>
<path d="M165.9 221.24h3.4L167.6 218.24Z" fill="#fff" stroke="#2a2a2a" stroke-width="0.75"/>
<path d="M173.1 223.44h3.4L174.8 220.44Z" fill="#fff" stroke="#2a2a2a" stroke-width="0.75"/>
<path d="M57.8 175.04h3.4L59.5 178.04Z" fill="#fff" stroke="#2a2a2a" stroke-width="0.75"/>
<path d="M71 175.85h3.4L72.7 178.85Z" fill="#fff" stroke="#2a2a2a" stroke-width="0.75"/>
<path d="M76.9 176.15h3.4L78.6 179.15Z" fill="#fff" stroke="#2a2a2a" stroke-width="0.75"/>
<path d="M82.7 176.15h3.4L84.4 179.15Z" fill="#fff" stroke="#2a2a2a" stroke-width="0.75"/>
<path d="M96.4 178.45h3.4L98.1 181.45Z" fill="#fff" stroke="#2a2a2a" stroke-width="0.75"/>
<path d="M100.7 179.25h3.4L102.4 182.25Z" fill="#fff" stroke="#2a2a2a" stroke-width="0.75"/>
<path d="M105.2 180.36h3.4L106.9 183.36Z" fill="#fff" stroke="#2a2a2a" stroke-width="0.75"/>
<path d="M118.8 184.57h3.4L120.5 187.57Z" fill="#fff" stroke="#2a2a2a" stroke-width="0.75"/>
<path d="M124.6 185.27h3.4L126.3 188.27Z" fill="#fff" stroke="#2a2a2a" stroke-width="0.75"/>
<path d="M126.9 186.37h3.4L128.6 189.37Z" fill="#fff" stroke="#2a2a2a" stroke-width="0.75"/>
<path d="M131.6 188.27h3.4L133.3 191.27Z" fill="#fff" stroke="#2a2a2a" stroke-width="0.75"/>
<path d="M134.2 188.97h3.4L135.9 191.97Z" fill="#fff" stroke="#2a2a2a" stroke-width="0.75"/>
<path d="M137.1 190.08h3.4L138.8 193.08Z" fill="#fff" stroke="#2a2a2a" stroke-width="0.75"/>
<path d="M141 191.18h3.4L142.7 194.18Z" fill="#fff" stroke="#2a2a2a" stroke-width="0.75"/>
<path d="M150.2 195.49h3.4L151.9 198.49Z" fill="#fff" stroke="#2a2a2a" stroke-width="0.75"/>
<path d="M154.6 197.39h3.4L156.3 200.39Z" fill="#fff" stroke="#2a2a2a" stroke-width="0.75"/>
<path d="M158.5 198.4h3.4L160.2 201.4Z" fill="#fff" stroke="#2a2a2a" stroke-width="0.75"/>
<path d="M164.1 204.31h3.4L165.8 207.31Z" fill="#fff" stroke="#2a2a2a" stroke-width="0.75"/>
<rect x="62.4" y="198.1" width="3.2" height="3.2" fill="#000"/>
<rect x="75.4" y="198.5" width="3.2" height="3.2" fill="#000"/>
<rect x="85.1" y="199.4" width="3.2" height="3.2" fill="#000"/>
<rect x="98.7" y="201" width="3.2" height="3.2" fill="#000"/>
<rect x="103.8" y="201.5" width="3.2" height="3.2" fill="#000"/>
<rect x="111" y="203.61" width="3.2" height="3.2" fill="#000"/>
<rect x="127.6" y="207.52" width="3.2" height="3.2" fill="#000"/>
<rect x="130.5" y="208.22" width="3.2" height="3.2" fill="#000"/>
<rect x="139.6" y="212.03" width="3.2" height="3.2" fill="#000"/>
<rect x="142.7" y="213.73" width="3.2" height="3.2" fill="#000"/>
<rect x="154.5" y="217.74" width="3.2" height="3.2" fill="#000"/>
<rect x="155.8" y="219.64" width="3.2" height="3.2" fill="#000"/>
<rect x="170.5" y="222.65" width="3.2" height="3.2" fill="#000"/>
<path d="M66.5 193.78h4L68.5 190.38Z" fill="#000"/>
<path d="M77.5 194.18h4L79.5 190.78Z" fill="#000"/>
<path d="M86.4 194.68h4L88.4 191.28Z" fill="#000"/>
<path d="M95.7 196.28h4L97.7 192.88Z" fill="#000"/>
<path d="M105.3 197.59h4L107.3 194.19Z" fill="#000"/>
<path d="M115.3 200.59h4L117.3 197.19Z" fill="#000"/>
<path d="M120.8 201.6h4L122.8 198.2Z" fill="#000"/>
<path d="M124.3 202h4L126.3 198.6Z" fill="#000"/>
<path d="M128.4 203.1h4L130.4 199.7Z" fill="#000"/>
<path d="M131.3 204.2h4L133.3 200.8Z" fill="#000"/>
<path d="M133.9 205.71h4L135.9 202.31Z" fill="#000"/>
<path d="M135.9 206.41h4L137.9 203.01Z" fill="#000"/>
<path d="M142.2 209.91h4L144.2 206.51Z" fill="#000"/>
<path d="M154.5 214.72h4L156.5 211.32Z" fill="#000"/>
<path d="M77.3 168.23h4L79.3 171.63Z" fill="#000"/>
<path d="M89.7 169.93h4L91.7 173.33Z" fill="#000"/>
<path d="M98.9 171.74h4L100.9 175.14Z" fill="#000"/>
<path d="M105.9 173.34h4L107.9 176.74Z" fill="#000"/>
<path d="M111.6 175.25h4L113.6 178.65Z" fill="#000"/>
<path d="M117 176.85h4L119 180.25Z" fill="#000"/>
<path d="M121.8 178.25h4L123.8 181.65Z" fill="#000"/>
<path d="M129.1 181.46h4L131.1 184.86Z" fill="#000"/>
<path d="M131.3 182.16h4L133.3 185.56Z" fill="#000"/>
<path d="M136.4 184.37h4L138.4 187.77Z" fill="#000"/>
<path d="M143.6 188.07h4L145.6 191.47Z" fill="#000"/>
<path d="M154.3 193.38h4L156.3 196.78Z" fill="#000"/>
<path d="M156 194.29h4L158 197.69Z" fill="#000"/>
<rect x="246.67" y="207.49" width="2.6" height="2.6" fill="#fff" stroke="#2a2a2a" stroke-width="0.75"/>
<rect x="263.97" y="208.85" width="2.6" height="2.6" fill="#fff" stroke="#2a2a2a" stroke-width="0.75"/>
<rect x="280.07" y="211.26" width="2.6" height="2.6" fill="#fff" stroke="#2a2a2a" stroke-width="0.75"/>
<rect x="283.97" y="211.74" width="2.6" height="2.6" fill="#fff" stroke="#2a2a2a" stroke-width="0.75"/>
<rect x="287.77" y="212.62" width="2.6" height="2.6" fill="#fff" stroke="#2a2a2a" stroke-width="0.75"/>
<rect x="290.87" y="213.26" width="2.6" height="2.6" fill="#fff" stroke="#2a2a2a" stroke-width="0.75"/>
<rect x="299.47" y="214.79" width="2.6" height="2.6" fill="#fff" stroke="#2a2a2a" stroke-width="0.75"/>
<rect x="303.87" y="215.99" width="2.6" height="2.6" fill="#fff" stroke="#2a2a2a" stroke-width="0.75"/>
<rect x="307.87" y="217.51" width="2.6" height="2.6" fill="#fff" stroke="#2a2a2a" stroke-width="0.75"/>
<rect x="312.27" y="218.63" width="2.6" height="2.6" fill="#fff" stroke="#2a2a2a" stroke-width="0.75"/>
<rect x="317.27" y="219.84" width="2.6" height="2.6" fill="#fff" stroke="#2a2a2a" stroke-width="0.75"/>
<rect x="322.87" y="221.84" width="2.6" height="2.6" fill="#fff" stroke="#2a2a2a" stroke-width="0.75"/>
<rect x="327.87" y="223.68" width="2.6" height="2.6" fill="#fff" stroke="#2a2a2a" stroke-width="0.75"/>
<rect x="334.87" y="225.29" width="2.6" height="2.6" fill="#fff" stroke="#2a2a2a" stroke-width="0.75"/>
<rect x="340.57" y="226.25" width="2.6" height="2.6" fill="#fff" stroke="#2a2a2a" stroke-width="0.75"/>
<rect x="345.97" y="227.93" width="2.6" height="2.6" fill="#fff" stroke="#2a2a2a" stroke-width="0.75"/>
<path d="M232.97 204.26h3.4L234.67 201.26Z" fill="#fff" stroke="#2a2a2a" stroke-width="0.75"/>
<path d="M245.77 205.06h3.4L247.47 202.06Z" fill="#fff" stroke="#2a2a2a" stroke-width="0.75"/>
<path d="M253.57 205.78h3.4L255.27 202.78Z" fill="#fff" stroke="#2a2a2a" stroke-width="0.75"/>
<path d="M256.77 205.94h3.4L258.47 202.94Z" fill="#fff" stroke="#2a2a2a" stroke-width="0.75"/>
<path d="M262.77 205.94h3.4L264.47 202.94Z" fill="#fff" stroke="#2a2a2a" stroke-width="0.75"/>
<path d="M272.07 206.98h3.4L273.77 203.98Z" fill="#fff" stroke="#2a2a2a" stroke-width="0.75"/>
<path d="M284.17 208.83h3.4L285.87 205.83Z" fill="#fff" stroke="#2a2a2a" stroke-width="0.75"/>
<path d="M294.67 211.71h3.4L296.37 208.71Z" fill="#fff" stroke="#2a2a2a" stroke-width="0.75"/>
<path d="M298.37 212.27h3.4L300.07 209.27Z" fill="#fff" stroke="#2a2a2a" stroke-width="0.75"/>
<path d="M301.97 212.84h3.4L303.67 209.84Z" fill="#fff" stroke="#2a2a2a" stroke-width="0.75"/>
<path d="M306.37 214.6h3.4L308.07 211.6Z" fill="#fff" stroke="#2a2a2a" stroke-width="0.75"/>
<path d="M309.97 215.56h3.4L311.67 212.56Z" fill="#fff" stroke="#2a2a2a" stroke-width="0.75"/>
<path d="M313.57 215.72h3.4L315.27 212.72Z" fill="#fff" stroke="#2a2a2a" stroke-width="0.75"/>
<path d="M324.37 219.33h3.4L326.07 216.33Z" fill="#fff" stroke="#2a2a2a" stroke-width="0.75"/>
<path d="M334.57 222.86h3.4L336.27 219.86Z" fill="#fff" stroke="#2a2a2a" stroke-width="0.75"/>
<path d="M340.67 224.94h3.4L342.37 221.94Z" fill="#fff" stroke="#2a2a2a" stroke-width="0.75"/>
<path d="M347.87 226.71h3.4L349.57 223.71Z" fill="#fff" stroke="#2a2a2a" stroke-width="0.75"/>
<path d="M232.57 187.51h3.4L234.27 190.51Z" fill="#fff" stroke="#2a2a2a" stroke-width="0.75"/>
<path d="M245.77 188.15h3.4L247.47 191.15Z" fill="#fff" stroke="#2a2a2a" stroke-width="0.75"/>
<path d="M251.67 188.39h3.4L253.37 191.39Z" fill="#fff" stroke="#2a2a2a" stroke-width="0.75"/>
<path d="M257.47 188.39h3.4L259.17 191.39Z" fill="#fff" stroke="#2a2a2a" stroke-width="0.75"/>
<path d="M271.17 190.23h3.4L272.87 193.23Z" fill="#fff" stroke="#2a2a2a" stroke-width="0.75"/>
<path d="M275.47 190.87h3.4L277.17 193.87Z" fill="#fff" stroke="#2a2a2a" stroke-width="0.75"/>
<path d="M279.97 191.75h3.4L281.67 194.75Z" fill="#fff" stroke="#2a2a2a" stroke-width="0.75"/>
<path d="M293.57 195.12h3.4L295.27 198.12Z" fill="#fff" stroke="#2a2a2a" stroke-width="0.75"/>
<path d="M299.37 195.68h3.4L301.07 198.68Z" fill="#fff" stroke="#2a2a2a" stroke-width="0.75"/>
<path d="M301.67 196.57h3.4L303.37 199.57Z" fill="#fff" stroke="#2a2a2a" stroke-width="0.75"/>
<path d="M306.37 198.09h3.4L308.07 201.09Z" fill="#fff" stroke="#2a2a2a" stroke-width="0.75"/>
<path d="M308.97 198.65h3.4L310.67 201.65Z" fill="#fff" stroke="#2a2a2a" stroke-width="0.75"/>
<path d="M311.87 199.53h3.4L313.57 202.53Z" fill="#fff" stroke="#2a2a2a" stroke-width="0.75"/>
<path d="M315.77 200.41h3.4L317.47 203.41Z" fill="#fff" stroke="#2a2a2a" stroke-width="0.75"/>
<path d="M324.97 203.86h3.4L326.67 206.86Z" fill="#fff" stroke="#2a2a2a" stroke-width="0.75"/>
<path d="M329.37 205.38h3.4L331.07 208.38Z" fill="#fff" stroke="#2a2a2a" stroke-width="0.75"/>
<path d="M333.27 206.19h3.4L334.97 209.19Z" fill="#fff" stroke="#2a2a2a" stroke-width="0.75"/>
<path d="M338.87 210.92h3.4L340.57 213.92Z" fill="#fff" stroke="#2a2a2a" stroke-width="0.75"/>
<rect x="227.6" y="185.4" width="3.2" height="3.2" fill="#000"/>
<rect x="240" y="186.3" width="3.2" height="3.2" fill="#000"/>
<rect x="247.9" y="187.1" width="3.2" height="3.2" fill="#000"/>
<rect x="256.8" y="188.3" width="3.2" height="3.2" fill="#000"/>
<rect x="267.8" y="190.7" width="3.2" height="3.2" fill="#000"/>
<rect x="280.1" y="194.7" width="3.2" height="3.2" fill="#000"/>
<rect x="284.2" y="196.3" width="3.2" height="3.2" fill="#000"/>
<rect x="294.7" y="201.4" width="3.2" height="3.2" fill="#000"/>
<rect x="298.8" y="203.7" width="3.2" height="3.2" fill="#000"/>
<rect x="301.9" y="204.9" width="3.2" height="3.2" fill="#000"/>
<rect x="308.3" y="208.5" width="3.2" height="3.2" fill="#000"/>
<rect x="310.2" y="209.4" width="3.2" height="3.2" fill="#000"/>
<rect x="322.6" y="215" width="3.2" height="3.2" fill="#000"/>
<rect x="330.8" y="219.7" width="3.2" height="3.2" fill="#000"/>
<path d="M226.7 169.4h4L228.7 166Z" fill="#000"/>
<path d="M240.7 169.9h4L242.7 166.5Z" fill="#000"/>
<path d="M244.1 170.6h4L246.1 167.2Z" fill="#000"/>
<path d="M265.7 176.6h4L267.7 173.2Z" fill="#000"/>
<path d="M277.2 180.8h4L279.2 177.4Z" fill="#000"/>
<path d="M284.7 184.2h4L286.7 180.8Z" fill="#000"/>
<path d="M295.2 189.4h4L297.2 186Z" fill="#000"/>
<path d="M299.6 192h4L301.6 188.6Z" fill="#000"/>
<path d="M302.8 193.3h4L304.8 189.9Z" fill="#000"/>
<path d="M308.3 196.5h4L310.3 193.1Z" fill="#000"/>
<path d="M311.5 198.7h4L313.5 195.3Z" fill="#000"/>
<path d="M319.2 205.2h4L321.2 201.8Z" fill="#000"/>
<path d="M327.6 211.1h4L329.6 207.7Z" fill="#000"/>
<path d="M224.1 151.2h4L226.1 154.6Z" fill="#000"/>
<path d="M234.3 151.7h4L236.3 155.1Z" fill="#000"/>
<path d="M253.9 154h4L255.9 157.4Z" fill="#000"/>
<path d="M272.7 160.1h4L274.7 163.5Z" fill="#000"/>
<path d="M280 163.8h4L282 167.2Z" fill="#000"/>
<path d="M289.2 170h4L291.2 173.4Z" fill="#000"/>
<path d="M295.8 173.8h4L297.8 177.2Z" fill="#000"/>
<path d="M299 175.7h4L301 179.1Z" fill="#000"/>
<path d="M302.8 177.9h4L304.8 181.3Z" fill="#000"/>
<path d="M306 180.2h4L308 183.6Z" fill="#000"/>
<path d="M309.2 182.3h4L311.2 185.7Z" fill="#000"/>
<path d="M311.3 183.6h4L313.3 187Z" fill="#000"/>
<path d="M319.1 190.2h4L321.1 193.6Z" fill="#000"/>
<path d="M326.2 195.8h4L328.2 199.2Z" fill="#000"/>
<rect x="71.9" y="353.52" width="2.6" height="2.6" fill="#fff" stroke="#2a2a2a" stroke-width="0.75"/>
<rect x="89.2" y="354.88" width="2.6" height="2.6" fill="#fff" stroke="#2a2a2a" stroke-width="0.75"/>
<rect x="105.3" y="357.29" width="2.6" height="2.6" fill="#fff" stroke="#2a2a2a" stroke-width="0.75"/>
<rect x="109.2" y="357.77" width="2.6" height="2.6" fill="#fff" stroke="#2a2a2a" stroke-width="0.75"/>
<rect x="113" y="358.66" width="2.6" height="2.6" fill="#fff" stroke="#2a2a2a" stroke-width="0.75"/>
<rect x="116.1" y="359.3" width="2.6" height="2.6" fill="#fff" stroke="#2a2a2a" stroke-width="0.75"/>
<rect x="124.7" y="360.82" width="2.6" height="2.6" fill="#fff" stroke="#2a2a2a" stroke-width="0.75"/>
<rect x="129.1" y="362.03" width="2.6" height="2.6" fill="#fff" stroke="#2a2a2a" stroke-width="0.75"/>
<rect x="133.1" y="363.55" width="2.6" height="2.6" fill="#fff" stroke="#2a2a2a" stroke-width="0.75"/>
<rect x="137.5" y="364.68" width="2.6" height="2.6" fill="#fff" stroke="#2a2a2a" stroke-width="0.75"/>
<rect x="142.5" y="365.88" width="2.6" height="2.6" fill="#fff" stroke="#2a2a2a" stroke-width="0.75"/>
<rect x="148.1" y="367.89" width="2.6" height="2.6" fill="#fff" stroke="#2a2a2a" stroke-width="0.75"/>
<rect x="153.1" y="369.74" width="2.6" height="2.6" fill="#fff" stroke="#2a2a2a" stroke-width="0.75"/>
<rect x="160.1" y="371.34" width="2.6" height="2.6" fill="#fff" stroke="#2a2a2a" stroke-width="0.75"/>
<rect x="165.8" y="372.31" width="2.6" height="2.6" fill="#fff" stroke="#2a2a2a" stroke-width="0.75"/>
<rect x="171.2" y="373.99" width="2.6" height="2.6" fill="#fff" stroke="#2a2a2a" stroke-width="0.75"/>
<circle cx="95.73" cy="355.54" r="1.7" fill="#cfcfcf"/>
<circle cx="102.53" cy="356.02" r="1.7" fill="#cfcfcf"/>
<circle cx="108.83" cy="356.58" r="1.7" fill="#cfcfcf"/>
<circle cx="113.83" cy="357.71" r="1.7" fill="#cfcfcf"/>
<circle cx="123.63" cy="359.64" r="1.7" fill="#cfcfcf"/>
<circle cx="129.43" cy="361.08" r="1.7" fill="#cfcfcf"/>
<circle cx="131.73" cy="361.96" r="1.7" fill="#cfcfcf"/>
<circle cx="136.43" cy="363.41" r="1.7" fill="#cfcfcf"/>
<circle cx="139.33" cy="364.53" r="1.7" fill="#cfcfcf"/>
<circle cx="144.83" cy="365.98" r="1.7" fill="#cfcfcf"/>
<circle cx="156.53" cy="369.83" r="1.7" fill="#cfcfcf"/>
<rect x="62.4" y="351.85" width="3.2" height="3.2" fill="#c8c8c8"/>
<rect x="75.4" y="352.17" width="3.2" height="3.2" fill="#c8c8c8"/>
<rect x="85.1" y="352.9" width="3.2" height="3.2" fill="#c8c8c8"/>
<rect x="98.7" y="354.18" width="3.2" height="3.2" fill="#c8c8c8"/>
<rect x="103.8" y="354.58" width="3.2" height="3.2" fill="#c8c8c8"/>
<rect x="111" y="356.27" width="3.2" height="3.2" fill="#c8c8c8"/>
<rect x="127.6" y="359.4" width="3.2" height="3.2" fill="#c8c8c8"/>
<rect x="130.5" y="359.96" width="3.2" height="3.2" fill="#c8c8c8"/>
<rect x="139.6" y="363.01" width="3.2" height="3.2" fill="#c8c8c8"/>
<rect x="142.7" y="364.38" width="3.2" height="3.2" fill="#c8c8c8"/>
<rect x="154.5" y="367.59" width="3.2" height="3.2" fill="#c8c8c8"/>
<rect x="155.8" y="369.11" width="3.2" height="3.2" fill="#c8c8c8"/>
<rect x="170.5" y="371.52" width="3.2" height="3.2" fill="#c8c8c8"/>
<rect x="52.83" y="331.4" width="3.2" height="3.2" fill="#000"/>
<rect x="65.23" y="332.3" width="3.2" height="3.2" fill="#000"/>
<rect x="73.13" y="333.1" width="3.2" height="3.2" fill="#000"/>
<rect x="82.03" y="334.3" width="3.2" height="3.2" fill="#000"/>
<rect x="93.03" y="336.7" width="3.2" height="3.2" fill="#000"/>
<rect x="105.33" y="340.71" width="3.2" height="3.2" fill="#000"/>
<rect x="109.43" y="342.31" width="3.2" height="3.2" fill="#000"/>
<rect x="119.93" y="347.42" width="3.2" height="3.2" fill="#000"/>
<rect x="124.03" y="349.72" width="3.2" height="3.2" fill="#000"/>
<rect x="127.13" y="350.92" width="3.2" height="3.2" fill="#000"/>
<rect x="133.53" y="354.53" width="3.2" height="3.2" fill="#000"/>
<rect x="135.43" y="355.43" width="3.2" height="3.2" fill="#000"/>
<rect x="147.83" y="361.04" width="3.2" height="3.2" fill="#000"/>
<rect x="156.03" y="365.75" width="3.2" height="3.2" fill="#000"/>
<path d="M58.25 351.46h4L60.25 348.06Z" fill="#000"/>
<path d="M71.85 352.5h4L73.85 349.1Z" fill="#000"/>
<path d="M81.65 353.47h4L83.65 350.07Z" fill="#000"/>
<path d="M91.15 354.67h4L93.15 351.27Z" fill="#000"/>
<path d="M99.45 355.55h4L101.45 352.15Z" fill="#000"/>
<path d="M102.45 356.04h4L104.45 352.64Z" fill="#000"/>
<path d="M112.75 358.28h4L114.75 354.88Z" fill="#000"/>
<path d="M121.55 361.01h4L123.55 357.61Z" fill="#000"/>
<path d="M126.65 362.78h4L128.65 359.38Z" fill="#000"/>
<path d="M130.55 363.9h4L132.55 360.5Z" fill="#000"/>
<path d="M134.35 365.35h4L136.35 361.95Z" fill="#000"/>
<path d="M137.55 366.87h4L139.55 363.47Z" fill="#000"/>
<path d="M152.35 371.13h4L154.35 367.73Z" fill="#000"/>
<path d="M71.9 346.8h4L73.9 350.2Z" fill="#000"/>
<path d="M81.2 347.8h4L83.2 351.2Z" fill="#000"/>
<path d="M85.7 348.6h4L87.7 352Z" fill="#000"/>
<path d="M105.7 353.2h4L107.7 356.6Z" fill="#000"/>
<path d="M113.5 353.8h4L115.5 357.2Z" fill="#000"/>
<path d="M118.5 356.1h4L120.5 359.5Z" fill="#000"/>
<path d="M122 356.6h4L124 360Z" fill="#000"/>
<path d="M127 358.4h4L129 361.8Z" fill="#000"/>
<path d="M131.2 359.8h4L133.2 363.2Z" fill="#000"/>
<path d="M135 361.3h4L137 364.7Z" fill="#000"/>
<path d="M137.5 362.8h4L139.5 366.2Z" fill="#000"/>
<path d="M142.1 364.5h4L144.1 367.9Z" fill="#000"/>
<path d="M154.5 369.3h4L156.5 372.7Z" fill="#000"/>
<rect x="233.37" y="347.58" width="2.6" height="2.6" fill="#fff" stroke="#2a2a2a" stroke-width="0.75"/>
<rect x="246.17" y="348.38" width="2.6" height="2.6" fill="#fff" stroke="#2a2a2a" stroke-width="0.75"/>
<rect x="253.97" y="349.1" width="2.6" height="2.6" fill="#fff" stroke="#2a2a2a" stroke-width="0.75"/>
<rect x="257.17" y="349.26" width="2.6" height="2.6" fill="#fff" stroke="#2a2a2a" stroke-width="0.75"/>
<rect x="263.17" y="349.26" width="2.6" height="2.6" fill="#fff" stroke="#2a2a2a" stroke-width="0.75"/>
<rect x="272.47" y="350.31" width="2.6" height="2.6" fill="#fff" stroke="#2a2a2a" stroke-width="0.75"/>
<rect x="284.57" y="352.15" width="2.6" height="2.6" fill="#fff" stroke="#2a2a2a" stroke-width="0.75"/>
<rect x="295.07" y="355.04" width="2.6" height="2.6" fill="#fff" stroke="#2a2a2a" stroke-width="0.75"/>
<rect x="298.77" y="355.61" width="2.6" height="2.6" fill="#fff" stroke="#2a2a2a" stroke-width="0.75"/>
<rect x="302.37" y="356.17" width="2.6" height="2.6" fill="#fff" stroke="#2a2a2a" stroke-width="0.75"/>
<rect x="306.77" y="357.93" width="2.6" height="2.6" fill="#fff" stroke="#2a2a2a" stroke-width="0.75"/>
<rect x="310.37" y="358.9" width="2.6" height="2.6" fill="#fff" stroke="#2a2a2a" stroke-width="0.75"/>
<rect x="313.97" y="359.06" width="2.6" height="2.6" fill="#fff" stroke="#2a2a2a" stroke-width="0.75"/>
<rect x="324.77" y="362.67" width="2.6" height="2.6" fill="#fff" stroke="#2a2a2a" stroke-width="0.75"/>
<rect x="334.97" y="366.2" width="2.6" height="2.6" fill="#fff" stroke="#2a2a2a" stroke-width="0.75"/>
<rect x="341.07" y="368.29" width="2.6" height="2.6" fill="#fff" stroke="#2a2a2a" stroke-width="0.75"/>
<rect x="348.27" y="370.06" width="2.6" height="2.6" fill="#fff" stroke="#2a2a2a" stroke-width="0.75"/>
<circle cx="247.7" cy="344.94" r="1.7" fill="#cfcfcf"/>
<circle cx="259.4" cy="345.67" r="1.7" fill="#cfcfcf"/>
<circle cx="272" cy="346.95" r="1.7" fill="#cfcfcf"/>
<circle cx="283.9" cy="349.28" r="1.7" fill="#cfcfcf"/>
<circle cx="295.9" cy="351.93" r="1.7" fill="#cfcfcf"/>
<circle cx="299.3" cy="352.65" r="1.7" fill="#cfcfcf"/>
<circle cx="303.2" cy="353.45" r="1.7" fill="#cfcfcf"/>
<circle cx="307.5" cy="354.66" r="1.7" fill="#cfcfcf"/>
<circle cx="309.4" cy="355.22" r="1.7" fill="#cfcfcf"/>
<circle cx="312.6" cy="356.18" r="1.7" fill="#cfcfcf"/>
<circle cx="318.5" cy="358.75" r="1.7" fill="#cfcfcf"/>
<circle cx="330.4" cy="363.17" r="1.7" fill="#cfcfcf"/>
<rect x="241.67" y="345.75" width="3.2" height="3.2" fill="#c8c8c8"/>
<rect x="252.67" y="346.07" width="3.2" height="3.2" fill="#c8c8c8"/>
<rect x="261.57" y="346.47" width="3.2" height="3.2" fill="#c8c8c8"/>
<rect x="270.87" y="347.76" width="3.2" height="3.2" fill="#c8c8c8"/>
<rect x="280.47" y="348.8" width="3.2" height="3.2" fill="#c8c8c8"/>
<rect x="290.47" y="351.21" width="3.2" height="3.2" fill="#c8c8c8"/>
<rect x="295.97" y="352.01" width="3.2" height="3.2" fill="#c8c8c8"/>
<rect x="299.47" y="352.33" width="3.2" height="3.2" fill="#c8c8c8"/>
<rect x="303.57" y="353.22" width="3.2" height="3.2" fill="#c8c8c8"/>
<rect x="306.47" y="354.1" width="3.2" height="3.2" fill="#c8c8c8"/>
<rect x="309.07" y="355.31" width="3.2" height="3.2" fill="#c8c8c8"/>
<rect x="311.07" y="355.87" width="3.2" height="3.2" fill="#c8c8c8"/>
<rect x="317.37" y="358.68" width="3.2" height="3.2" fill="#c8c8c8"/>
<rect x="329.67" y="362.53" width="3.2" height="3.2" fill="#c8c8c8"/>
<rect x="227.1" y="312.07" width="3.2" height="3.2" fill="#000"/>
<rect x="241.1" y="312.57" width="3.2" height="3.2" fill="#000"/>
<rect x="244.5" y="313.27" width="3.2" height="3.2" fill="#000"/>
<rect x="266.1" y="319.28" width="3.2" height="3.2" fill="#000"/>
<rect x="277.6" y="323.49" width="3.2" height="3.2" fill="#000"/>
<rect x="285.1" y="326.89" width="3.2" height="3.2" fill="#000"/>
<rect x="295.6" y="332.1" width="3.2" height="3.2" fill="#000"/>
<rect x="300" y="334.7" width="3.2" height="3.2" fill="#000"/>
<rect x="303.2" y="336" width="3.2" height="3.2" fill="#000"/>
<rect x="308.7" y="339.21" width="3.2" height="3.2" fill="#000"/>
<rect x="311.9" y="341.41" width="3.2" height="3.2" fill="#000"/>
<rect x="319.6" y="347.92" width="3.2" height="3.2" fill="#000"/>
<rect x="328" y="353.83" width="3.2" height="3.2" fill="#000"/>
<path d="M227.02 339.82h4L229.02 336.42Z" fill="#000"/>
<path d="M242.32 340.7h4L244.32 337.3Z" fill="#000"/>
<path d="M254.62 341.83h4L256.62 338.43Z" fill="#000"/>
<path d="M264.82 342.87h4L266.82 339.47Z" fill="#000"/>
<path d="M284.62 347.45h4L286.62 344.05Z" fill="#000"/>
<path d="M290.22 348.41h4L292.22 345.01Z" fill="#000"/>
<path d="M294.32 349.29h4L296.32 345.89Z" fill="#000"/>
<path d="M298.72 350.74h4L300.72 347.34Z" fill="#000"/>
<path d="M304.02 352.82h4L306.02 349.42Z" fill="#000"/>
<path d="M307.82 354.27h4L309.82 350.87Z" fill="#000"/>
<path d="M311.62 356.28h4L313.62 352.88Z" fill="#000"/>
<path d="M323.62 361.34h4L325.62 357.94Z" fill="#000"/>
<path d="M334.82 365.67h4L336.82 362.27Z" fill="#000"/>
<path d="M242.3 327.5h4L244.3 330.9Z" fill="#000"/>
<path d="M248.3 328.4h4L250.3 331.8Z" fill="#000"/>
<path d="M254.8 329.9h4L256.8 333.3Z" fill="#000"/>
<path d="M265.7 332.2h4L267.7 335.6Z" fill="#000"/>
<path d="M283.5 336.5h4L285.5 339.9Z" fill="#000"/>
<path d="M288.4 338.1h4L290.4 341.5Z" fill="#000"/>
<path d="M293.3 340.1h4L295.3 343.5Z" fill="#000"/>
<path d="M298.2 342.1h4L300.2 345.5Z" fill="#000"/>
<path d="M303.1 344h4L305.1 347.4Z" fill="#000"/>
<path d="M305.8 345.1h4L307.8 348.5Z" fill="#000"/>
<path d="M309.1 346.7h4L311.1 350.1Z" fill="#000"/>
<path d="M310.7 348h4L312.7 351.4Z" fill="#000"/>
<path d="M316.2 351.1h4L318.2 354.5Z" fill="#000"/>
<path d="M324.3 355.3h4L326.3 358.7Z" fill="#000"/>
<rect x="407.95" y="333.2" width="2.6" height="2.6" fill="#fff" stroke="#2a2a2a" stroke-width="0.75"/>
<rect x="421.15" y="333.85" width="2.6" height="2.6" fill="#fff" stroke="#2a2a2a" stroke-width="0.75"/>
<rect x="427.05" y="334.09" width="2.6" height="2.6" fill="#fff" stroke="#2a2a2a" stroke-width="0.75"/>
<rect x="432.85" y="334.09" width="2.6" height="2.6" fill="#fff" stroke="#2a2a2a" stroke-width="0.75"/>
<rect x="446.55" y="335.93" width="2.6" height="2.6" fill="#fff" stroke="#2a2a2a" stroke-width="0.75"/>
<rect x="450.85" y="336.58" width="2.6" height="2.6" fill="#fff" stroke="#2a2a2a" stroke-width="0.75"/>
<rect x="455.35" y="337.46" width="2.6" height="2.6" fill="#fff" stroke="#2a2a2a" stroke-width="0.75"/>
<rect x="468.95" y="340.83" width="2.6" height="2.6" fill="#fff" stroke="#2a2a2a" stroke-width="0.75"/>
<rect x="474.75" y="341.39" width="2.6" height="2.6" fill="#fff" stroke="#2a2a2a" stroke-width="0.75"/>
<rect x="477.05" y="342.28" width="2.6" height="2.6" fill="#fff" stroke="#2a2a2a" stroke-width="0.75"/>
<rect x="481.75" y="343.8" width="2.6" height="2.6" fill="#fff" stroke="#2a2a2a" stroke-width="0.75"/>
<rect x="484.35" y="344.37" width="2.6" height="2.6" fill="#fff" stroke="#2a2a2a" stroke-width="0.75"/>
<rect x="487.25" y="345.25" width="2.6" height="2.6" fill="#fff" stroke="#2a2a2a" stroke-width="0.75"/>
<rect x="491.15" y="346.13" width="2.6" height="2.6" fill="#fff" stroke="#2a2a2a" stroke-width="0.75"/>
<rect x="500.35" y="349.58" width="2.6" height="2.6" fill="#fff" stroke="#2a2a2a" stroke-width="0.75"/>
<rect x="504.75" y="351.11" width="2.6" height="2.6" fill="#fff" stroke="#2a2a2a" stroke-width="0.75"/>
<rect x="508.65" y="351.91" width="2.6" height="2.6" fill="#fff" stroke="#2a2a2a" stroke-width="0.75"/>
<rect x="514.25" y="356.65" width="2.6" height="2.6" fill="#fff" stroke="#2a2a2a" stroke-width="0.75"/>
<circle cx="424.18" cy="323.75" r="1.7" fill="#cfcfcf"/>
<circle cx="435.88" cy="325.59" r="1.7" fill="#cfcfcf"/>
<circle cx="446.48" cy="326.48" r="1.7" fill="#cfcfcf"/>
<circle cx="459.68" cy="330.73" r="1.7" fill="#cfcfcf"/>
<circle cx="469.38" cy="333.38" r="1.7" fill="#cfcfcf"/>
<circle cx="470.38" cy="333.54" r="1.7" fill="#cfcfcf"/>
<circle cx="476.78" cy="335.71" r="1.7" fill="#cfcfcf"/>
<circle cx="478.58" cy="336.59" r="1.7" fill="#cfcfcf"/>
<circle cx="483.68" cy="338.36" r="1.7" fill="#cfcfcf"/>
<circle cx="486.98" cy="339.24" r="1.7" fill="#cfcfcf"/>
<circle cx="497.48" cy="342.94" r="1.7" fill="#cfcfcf"/>
<circle cx="506.78" cy="348.56" r="1.7" fill="#cfcfcf"/>
<rect x="427.45" y="327.61" width="3.2" height="3.2" fill="#c8c8c8"/>
<rect x="439.85" y="328.97" width="3.2" height="3.2" fill="#c8c8c8"/>
<rect x="449.05" y="330.42" width="3.2" height="3.2" fill="#c8c8c8"/>
<rect x="456.05" y="331.7" width="3.2" height="3.2" fill="#c8c8c8"/>
<rect x="461.75" y="333.23" width="3.2" height="3.2" fill="#c8c8c8"/>
<rect x="467.15" y="334.51" width="3.2" height="3.2" fill="#c8c8c8"/>
<rect x="471.95" y="335.63" width="3.2" height="3.2" fill="#c8c8c8"/>
<rect x="479.25" y="338.2" width="3.2" height="3.2" fill="#c8c8c8"/>
<rect x="481.45" y="338.77" width="3.2" height="3.2" fill="#c8c8c8"/>
<rect x="486.55" y="340.53" width="3.2" height="3.2" fill="#c8c8c8"/>
<rect x="493.75" y="343.5" width="3.2" height="3.2" fill="#c8c8c8"/>
<rect x="504.45" y="347.76" width="3.2" height="3.2" fill="#c8c8c8"/>
<rect x="506.15" y="348.48" width="3.2" height="3.2" fill="#c8c8c8"/>
<rect x="399.48" y="296.75" width="3.2" height="3.2" fill="#000"/>
<rect x="409.68" y="297.25" width="3.2" height="3.2" fill="#000"/>
<rect x="429.28" y="299.55" width="3.2" height="3.2" fill="#000"/>
<rect x="448.08" y="305.66" width="3.2" height="3.2" fill="#000"/>
<rect x="455.38" y="309.37" width="3.2" height="3.2" fill="#000"/>
<rect x="464.58" y="315.57" width="3.2" height="3.2" fill="#000"/>
<rect x="471.18" y="319.38" width="3.2" height="3.2" fill="#000"/>
<rect x="474.38" y="321.28" width="3.2" height="3.2" fill="#000"/>
<rect x="478.18" y="323.49" width="3.2" height="3.2" fill="#000"/>
<rect x="481.38" y="325.79" width="3.2" height="3.2" fill="#000"/>
<rect x="484.58" y="327.89" width="3.2" height="3.2" fill="#000"/>
<rect x="486.68" y="329.19" width="3.2" height="3.2" fill="#000"/>
<rect x="494.48" y="335.8" width="3.2" height="3.2" fill="#000"/>
<rect x="501.58" y="341.41" width="3.2" height="3.2" fill="#000"/>
<path d="M405.8 320.87h4L407.8 317.47Z" fill="#000"/>
<path d="M423 322.64h4L425 319.24Z" fill="#000"/>
<path d="M434.4 323.92h4L436.4 320.52Z" fill="#000"/>
<path d="M443.1 324.64h4L445.1 321.24Z" fill="#000"/>
<path d="M455 328.5h4L457 325.1Z" fill="#000"/>
<path d="M463 332.27h4L465 328.87Z" fill="#000"/>
<path d="M471.2 335.56h4L473.2 332.16Z" fill="#000"/>
<path d="M476 337.09h4L478 333.69Z" fill="#000"/>
<path d="M481.7 339.1h4L483.7 335.7Z" fill="#000"/>
<path d="M484.9 340.62h4L486.9 337.22Z" fill="#000"/>
<path d="M494.1 344.72h4L496.1 341.32Z" fill="#000"/>
<path d="M509.7 354.51h4L511.7 351.11Z" fill="#000"/>
<path d="M433 315.3h4L435 318.7Z" fill="#000"/>
<path d="M443.7 319.1h4L445.7 322.5Z" fill="#000"/>
<path d="M453 321h4L455 324.4Z" fill="#000"/>
<path d="M461.7 324.3h4L463.7 327.7Z" fill="#000"/>
<path d="M467.4 326.8h4L469.4 330.2Z" fill="#000"/>
<path d="M471.2 328.8h4L473.2 332.2Z" fill="#000"/>
<path d="M475.9 330.3h4L477.9 333.7Z" fill="#000"/>
<path d="M479.4 333h4L481.4 336.4Z" fill="#000"/>
<path d="M482.1 334.8h4L484.1 338.2Z" fill="#000"/>
<path d="M484.8 336h4L486.8 339.4Z" fill="#000"/>
<path d="M490 339.1h4L492 342.5Z" fill="#000"/>
<path d="M506.1 348.7h4L508.1 352.1Z" fill="#000"/>
<path d="M122 15.5H187.6M122 37.4H187.6" stroke="#666" stroke-width="0.9"/>
<text x="134.7" y="21.2" font-size="6" text-anchor="start" textLength="15.3" fill="#444">25kPa</text>
<text x="152.6" y="21.2" font-size="6" text-anchor="start" textLength="15.3" fill="#444">50kPa</text>
<text x="170" y="21.2" font-size="6" text-anchor="start" textLength="17.8" fill="#444">100kPa</text>
<text x="120.9" y="27" font-size="6.4" text-anchor="start" textLength="14.9" stroke="#1a1a1a" stroke-width="0.08">MICP</text>
<text x="123.7" y="34.3" font-size="6.4" text-anchor="start" textLength="8.3" stroke="#1a1a1a" stroke-width="0.08">UN</text>
<rect x="138.9" y="23.9" width="3.2" height="3.2" fill="#000"/>
<path d="M158.3 27.1h4L160.3 23.7Z" fill="#000"/>
<path d="M178.2 24.5h4L180.2 27.9Z" fill="#000"/>
<rect x="139.1" y="31.8" width="2.6" height="2.6" fill="#fff" stroke="#2a2a2a" stroke-width="0.75"/>
<path d="M158.6 34h3.4L160.3 31Z" fill="#fff" stroke="#2a2a2a" stroke-width="0.75"/>
<path d="M178.5 32h3.4L180.2 35Z" fill="#fff" stroke="#2a2a2a" stroke-width="0.75"/>
<rect x="136.3" y="294.2" width="2.6" height="2.6" fill="#fff" stroke="#2a2a2a" stroke-width="0.75"/>
<text x="146" y="297.4" font-size="6.4" text-anchor="start" textLength="8" stroke="#1a1a1a" stroke-width="0.1">0 h</text>
<rect x="163.7" y="293.7" width="3.2" height="3.2" fill="#c8c8c8"/>
<text x="173.5" y="297.4" font-size="6.4" text-anchor="start" textLength="7.6" stroke="#1a1a1a" stroke-width="0.1">6 h</text>
<circle cx="137.6" cy="303" r="1.7" fill="#cfcfcf"/>
<text x="146.4" y="304.9" font-size="6.4" text-anchor="start" textLength="10.6" stroke="#1a1a1a" stroke-width="0.1">12 h</text>
<path d="M163.3 304.8h4L165.3 301.4Z" fill="#000"/>
<text x="173.5" y="304.9" font-size="6.4" text-anchor="start" textLength="10.2" stroke="#1a1a1a" stroke-width="0.1">18 h</text>
<path d="M135.6 309.5h4L137.6 312.9Z" fill="#000"/>
<text x="146.4" y="312.3" font-size="6.4" text-anchor="start" textLength="10.6" stroke="#1a1a1a" stroke-width="0.1">24 h</text>
<rect x="163.7" y="308.9" width="3.2" height="3.2" fill="#000"/>
<text x="173.5" y="312.3" font-size="6.4" text-anchor="start" textLength="10.2" stroke="#1a1a1a" stroke-width="0.1">48 h</text>
<text x="41" y="101.6" font-size="7.6" stroke="#1a1a1a" stroke-width="0.12" textLength="53.7" lengthAdjust="spacingAndGlyphs"><tspan font-style="italic">t</tspan> = 6 h, <tspan font-style="italic">C</tspan><tspan font-size="4.6" dy="1.4">c</tspan><tspan dy="-1.4"> = 2.16 %</tspan></text>
<text x="215.5" y="101.6" font-size="7.6" stroke="#1a1a1a" stroke-width="0.12" textLength="57.3" lengthAdjust="spacingAndGlyphs"><tspan font-style="italic">t</tspan> = 12 h, <tspan font-style="italic">C</tspan><tspan font-size="4.6" dy="1.4">c</tspan><tspan dy="-1.4"> = 3.59 %</tspan></text>
<text x="390.8" y="101.6" font-size="7.6" stroke="#1a1a1a" stroke-width="0.12" textLength="55.3" lengthAdjust="spacingAndGlyphs"><tspan font-style="italic">t</tspan> = 18 h, <tspan font-style="italic">C</tspan><tspan font-size="4.6" dy="1.4">c</tspan><tspan dy="-1.4"> = 5.08%</tspan></text>
<text x="40.8" y="225.6" font-size="7.6" stroke="#1a1a1a" stroke-width="0.12" textLength="57" lengthAdjust="spacingAndGlyphs"><tspan font-style="italic">t</tspan> = 24 h, <tspan font-style="italic">C</tspan><tspan font-size="4.6" dy="1.4">c</tspan><tspan dy="-1.4"> = 7.32 %</tspan></text>
<text x="215.8" y="225.6" font-size="7.6" stroke="#1a1a1a" stroke-width="0.12" textLength="60.4" lengthAdjust="spacingAndGlyphs"><tspan font-style="italic">t</tspan> = 48 h, <tspan font-style="italic">C</tspan><tspan font-size="4.6" dy="1.4">c</tspan><tspan dy="-1.4"> = 11.17 %</tspan></text>
<text x="41.8" y="371.8" font-size="7.6" stroke="#1a1a1a" stroke-width="0.12" textLength="33" lengthAdjust="spacingAndGlyphs"><tspan font-style="italic">σ</tspan><tspan font-size="4.6" dy="1.4">c</tspan><tspan dy="-1.4">′ = 25 kPa</tspan></text>
<text x="216" y="371.8" font-size="7.6" stroke="#1a1a1a" stroke-width="0.12" textLength="33.5" lengthAdjust="spacingAndGlyphs"><tspan font-style="italic">σ</tspan><tspan font-size="4.6" dy="1.4">c</tspan><tspan dy="-1.4">′ = 50 kPa</tspan></text>
<text x="391" y="371.8" font-size="7.6" stroke="#1a1a1a" stroke-width="0.12" textLength="37.1" lengthAdjust="spacingAndGlyphs"><tspan font-style="italic">σ</tspan><tspan font-size="4.6" dy="1.4">c</tspan><tspan dy="-1.4">′ = 100 kPa</tspan></text>
<text x="430.7" y="142" font-size="11.5" stroke="#1a1a1a" stroke-width="0.18" textLength="80.8" lengthAdjust="spacingAndGlyphs">Shear strain, <tspan font-style="italic" font-size="11" style="font-family:DejaVu Serif,serif">γ</tspan>(%)</text>
<text x="74.2" y="263" font-size="11.5" stroke="#1a1a1a" stroke-width="0.18" textLength="81.3" lengthAdjust="spacingAndGlyphs">Shear strain, <tspan font-style="italic" font-size="11" style="font-family:DejaVu Serif,serif">γ</tspan>(%)</text>
<text x="244.8" y="262.6" font-size="11.5" stroke="#1a1a1a" stroke-width="0.18" textLength="81.2" lengthAdjust="spacingAndGlyphs">Shear strain, <tspan font-style="italic" font-size="11" style="font-family:DejaVu Serif,serif">γ</tspan>(%)</text>
<text x="68.5" y="413" font-size="11.5" stroke="#1a1a1a" stroke-width="0.18" textLength="81.9" lengthAdjust="spacingAndGlyphs">Shear strain, <tspan font-style="italic" font-size="11" style="font-family:DejaVu Serif,serif">γ</tspan>(%)</text>
<text x="244.8" y="413" font-size="11.5" stroke="#1a1a1a" stroke-width="0.18" textLength="81.2" lengthAdjust="spacingAndGlyphs">Shear strain, <tspan font-style="italic" font-size="11" style="font-family:DejaVu Serif,serif">γ</tspan>(%)</text>
<text x="426.5" y="413.1" font-size="11.5" stroke="#1a1a1a" stroke-width="0.18" textLength="84" lengthAdjust="spacingAndGlyphs">Shear strain, <tspan font-style="italic" font-size="11" style="font-family:DejaVu Serif,serif">γ</tspan>(%)</text>
<text transform="translate(13.9,198.8) rotate(-90)" font-size="11.8" stroke="#1a1a1a" stroke-width="0.18" textLength="155.5" lengthAdjust="spacingAndGlyphs">Dynamic shear modulus, <tspan font-style="italic">G</tspan> (MPa)</text>
<text transform="translate(14.4,421.4) rotate(-90)" font-size="11.6" stroke="#1a1a1a" stroke-width="0.18" textLength="153.6" lengthAdjust="spacingAndGlyphs">Dynamic shear modulus, G (MPa)</text>
<text x="275.6" y="275.7" font-size="9.6" text-anchor="start" style="font-family:'Liberation Serif','Noto Serif CJK SC',serif" stroke="#1a1a1a" stroke-width="0.3">（</text>
<text x="286.5" y="274.6" font-size="11" text-anchor="start" stroke="#1a1a1a" stroke-width="0.12">a</text>
<text x="293.2" y="275.7" font-size="9.6" text-anchor="start" style="font-family:'Liberation Serif','Noto Serif CJK SC',serif" stroke="#1a1a1a" stroke-width="0.3">）</text>
<text x="280.3" y="424.7" font-size="9.6" text-anchor="start" style="font-family:'Liberation Serif','Noto Serif CJK SC',serif" stroke="#1a1a1a" stroke-width="0.3">（</text>
<text x="291.3" y="423.6" font-size="11" text-anchor="start" stroke="#1a1a1a" stroke-width="0.12">b</text>
<text x="298.4" y="424.7" font-size="9.6" text-anchor="start" style="font-family:'Liberation Serif','Noto Serif CJK SC',serif" stroke="#1a1a1a" stroke-width="0.3">）</text>
</svg></body></html>
